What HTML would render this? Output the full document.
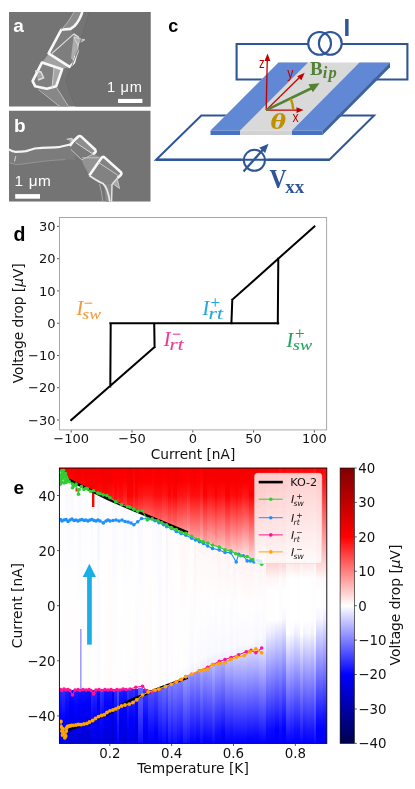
<!DOCTYPE html>
<html><head><meta charset="utf-8"><style>
html,body{margin:0;padding:0;background:#fff;}
body{width:415px;height:789px;overflow:hidden;}
svg{display:block;}
.dj{font-family:"DejaVu Sans",sans-serif;}
.lab{font-family:"Liberation Sans",sans-serif;font-weight:bold;}
</style></head><body>
<svg width="415" height="789" viewBox="0 0 415 789">
<defs>
<linearGradient id="cbar" x1="0" y1="0" x2="0" y2="1"><stop offset="0" stop-color="#800000"/><stop offset="0.25" stop-color="#ff0000"/><stop offset="0.5" stop-color="#ffffff"/><stop offset="0.75" stop-color="#0000ff"/><stop offset="1" stop-color="#00004c"/></linearGradient>
<linearGradient id="g0" x1="0" y1="0" x2="0" y2="1"><stop offset="0.0000" stop-color="#f90000"/><stop offset="0.0114" stop-color="#fa0000"/><stop offset="0.0114" stop-color="#fcfcff"/><stop offset="0.4096" stop-color="#ffffff"/><stop offset="0.7643" stop-color="#fffefe"/><stop offset="0.8078" stop-color="#fffbfb"/><stop offset="0.8078" stop-color="#2828ff"/><stop offset="0.8600" stop-color="#1212ff"/><stop offset="0.9100" stop-color="#0000fd"/><stop offset="0.9600" stop-color="#0000ee"/><stop offset="1.0000" stop-color="#0000e2"/></linearGradient><linearGradient id="g1" x1="0" y1="0" x2="0" y2="1"><stop offset="0.0000" stop-color="#f50000"/><stop offset="0.0227" stop-color="#f70000"/><stop offset="0.0227" stop-color="#fefeff"/><stop offset="0.4152" stop-color="#fffefe"/><stop offset="0.7640" stop-color="#fffdfd"/><stop offset="0.8076" stop-color="#fffafa"/><stop offset="0.8076" stop-color="#2f2fff"/><stop offset="0.8600" stop-color="#1919ff"/><stop offset="0.9100" stop-color="#0303ff"/><stop offset="0.9600" stop-color="#0000f3"/><stop offset="1.0000" stop-color="#0000e7"/></linearGradient><linearGradient id="g2" x1="0" y1="0" x2="0" y2="1"><stop offset="0.0000" stop-color="#f50000"/><stop offset="0.0359" stop-color="#f80000"/><stop offset="0.0359" stop-color="#fafaff"/><stop offset="0.4216" stop-color="#fefeff"/><stop offset="0.7638" stop-color="#ffffff"/><stop offset="0.8073" stop-color="#fffcfc"/><stop offset="0.8073" stop-color="#1f1fff"/><stop offset="0.8600" stop-color="#0909ff"/><stop offset="0.9100" stop-color="#0000f6"/><stop offset="0.9600" stop-color="#0000e8"/><stop offset="1.0000" stop-color="#0000dc"/></linearGradient><linearGradient id="g3" x1="0" y1="0" x2="0" y2="1"><stop offset="0.0000" stop-color="#fb0000"/><stop offset="0.0497" stop-color="#ff0202"/><stop offset="0.0497" stop-color="#fafaff"/><stop offset="0.4283" stop-color="#fefeff"/><stop offset="0.7634" stop-color="#ffffff"/><stop offset="0.8070" stop-color="#fffdfd"/><stop offset="0.8070" stop-color="#1212ff"/><stop offset="0.8600" stop-color="#0000fc"/><stop offset="0.9100" stop-color="#0000ed"/><stop offset="0.9600" stop-color="#0000de"/><stop offset="1.0000" stop-color="#0000d3"/></linearGradient><linearGradient id="g4" x1="0" y1="0" x2="0" y2="1"><stop offset="0.0000" stop-color="#f90000"/><stop offset="0.0500" stop-color="#fd0000"/><stop offset="0.0556" stop-color="#fe0000"/><stop offset="0.0556" stop-color="#ffffff"/><stop offset="0.4311" stop-color="#fffdfd"/><stop offset="0.7631" stop-color="#fffcfc"/><stop offset="0.8067" stop-color="#fff9f9"/><stop offset="0.8067" stop-color="#1a1aff"/><stop offset="0.8600" stop-color="#0404ff"/><stop offset="0.9100" stop-color="#0000f3"/><stop offset="0.9600" stop-color="#0000e4"/><stop offset="1.0000" stop-color="#0000d8"/></linearGradient><linearGradient id="g5" x1="0" y1="0" x2="0" y2="1"><stop offset="0.0000" stop-color="#f50000"/><stop offset="0.0500" stop-color="#fa0000"/><stop offset="0.0589" stop-color="#fb0000"/><stop offset="0.0589" stop-color="#fdfdff"/><stop offset="0.4327" stop-color="#fffefe"/><stop offset="0.7630" stop-color="#fffdfd"/><stop offset="0.8066" stop-color="#fffafa"/><stop offset="0.8066" stop-color="#1b1bff"/><stop offset="0.8600" stop-color="#0404ff"/><stop offset="0.9100" stop-color="#0000f3"/><stop offset="0.9600" stop-color="#0000e4"/><stop offset="1.0000" stop-color="#0000d9"/></linearGradient><linearGradient id="g6" x1="0" y1="0" x2="0" y2="1"><stop offset="0.0000" stop-color="#f60000"/><stop offset="0.0500" stop-color="#fb0000"/><stop offset="0.0639" stop-color="#fc0000"/><stop offset="0.0639" stop-color="#f9f9ff"/><stop offset="0.4351" stop-color="#fdfdff"/><stop offset="0.7628" stop-color="#ffffff"/><stop offset="0.8063" stop-color="#fffdfd"/><stop offset="0.8063" stop-color="#1414ff"/><stop offset="0.8100" stop-color="#1313ff"/><stop offset="0.8600" stop-color="#0000fd"/><stop offset="0.9100" stop-color="#0000ef"/><stop offset="0.9600" stop-color="#0000e0"/><stop offset="1.0000" stop-color="#0000d4"/></linearGradient><linearGradient id="g7" x1="0" y1="0" x2="0" y2="1"><stop offset="0.0000" stop-color="#fb0000"/><stop offset="0.0500" stop-color="#ff0202"/><stop offset="0.0689" stop-color="#ff0505"/><stop offset="0.0689" stop-color="#fefeff"/><stop offset="0.4375" stop-color="#fffefe"/><stop offset="0.7625" stop-color="#fffdfd"/><stop offset="0.8061" stop-color="#fffafa"/><stop offset="0.8061" stop-color="#1616ff"/><stop offset="0.8100" stop-color="#1515ff"/><stop offset="0.8600" stop-color="#0000ff"/><stop offset="0.9100" stop-color="#0000f0"/><stop offset="0.9600" stop-color="#0000e1"/><stop offset="1.0000" stop-color="#0000d5"/></linearGradient><linearGradient id="g8" x1="0" y1="0" x2="0" y2="1"><stop offset="0.0000" stop-color="#f40000"/><stop offset="0.0500" stop-color="#f90000"/><stop offset="0.0731" stop-color="#fb0000"/><stop offset="0.0731" stop-color="#fbfbff"/><stop offset="0.4395" stop-color="#fefeff"/><stop offset="0.7623" stop-color="#ffffff"/><stop offset="0.8059" stop-color="#fffcfc"/><stop offset="0.8059" stop-color="#1414ff"/><stop offset="0.8100" stop-color="#1212ff"/><stop offset="0.8600" stop-color="#0000fd"/><stop offset="0.9100" stop-color="#0000ee"/><stop offset="0.9600" stop-color="#0000df"/><stop offset="1.0000" stop-color="#0000d4"/></linearGradient><linearGradient id="g9" x1="0" y1="0" x2="0" y2="1"><stop offset="0.0000" stop-color="#f70000"/><stop offset="0.0500" stop-color="#fb0000"/><stop offset="0.0790" stop-color="#fe0000"/><stop offset="0.0790" stop-color="#fefeff"/><stop offset="0.4423" stop-color="#fffdfd"/><stop offset="0.7621" stop-color="#fffcfc"/><stop offset="0.8056" stop-color="#fff9f9"/><stop offset="0.8056" stop-color="#0f0fff"/><stop offset="0.8100" stop-color="#0e0eff"/><stop offset="0.8600" stop-color="#0000fa"/><stop offset="0.9100" stop-color="#0000eb"/><stop offset="0.9600" stop-color="#0000dc"/><stop offset="1.0000" stop-color="#0000d0"/></linearGradient><linearGradient id="g10" x1="0" y1="0" x2="0" y2="1"><stop offset="0.0000" stop-color="#f50000"/><stop offset="0.0500" stop-color="#f90000"/><stop offset="0.0840" stop-color="#fd0000"/><stop offset="0.0840" stop-color="#fafaff"/><stop offset="0.4447" stop-color="#fefeff"/><stop offset="0.7618" stop-color="#ffffff"/><stop offset="0.8054" stop-color="#fffdfd"/><stop offset="0.8054" stop-color="#3131ff"/><stop offset="0.8100" stop-color="#2f2fff"/><stop offset="0.8600" stop-color="#1a1aff"/><stop offset="0.9100" stop-color="#0505ff"/><stop offset="0.9600" stop-color="#0000f4"/><stop offset="1.0000" stop-color="#0000e8"/></linearGradient><linearGradient id="g11" x1="0" y1="0" x2="0" y2="1"><stop offset="0.0000" stop-color="#f70000"/><stop offset="0.0500" stop-color="#fb0000"/><stop offset="0.0890" stop-color="#ff0000"/><stop offset="0.0890" stop-color="#fefeff"/><stop offset="0.4471" stop-color="#fffefe"/><stop offset="0.7616" stop-color="#fffdfd"/><stop offset="0.8052" stop-color="#fffafa"/><stop offset="0.8052" stop-color="#2b2bff"/><stop offset="0.8100" stop-color="#2929ff"/><stop offset="0.8600" stop-color="#1414ff"/><stop offset="0.9100" stop-color="#0000fe"/><stop offset="0.9600" stop-color="#0000f0"/><stop offset="1.0000" stop-color="#0000e4"/></linearGradient><linearGradient id="g12" x1="0" y1="0" x2="0" y2="1"><stop offset="0.0000" stop-color="#f90000"/><stop offset="0.0500" stop-color="#fd0000"/><stop offset="0.0949" stop-color="#ff0a0a"/><stop offset="0.0949" stop-color="#f3f3ff"/><stop offset="0.4499" stop-color="#fafaff"/><stop offset="0.7613" stop-color="#fbfbff"/><stop offset="0.8049" stop-color="#fcfcff"/><stop offset="0.8049" stop-color="#1212ff"/><stop offset="0.8100" stop-color="#1010ff"/><stop offset="0.8600" stop-color="#0000fb"/><stop offset="0.9100" stop-color="#0000ec"/><stop offset="0.9600" stop-color="#0000de"/><stop offset="1.0000" stop-color="#0000d2"/></linearGradient><linearGradient id="g13" x1="0" y1="0" x2="0" y2="1"><stop offset="0.0000" stop-color="#f70000"/><stop offset="0.0500" stop-color="#fc0000"/><stop offset="0.0990" stop-color="#ff1111"/><stop offset="0.0990" stop-color="#fdfdff"/><stop offset="0.4519" stop-color="#fffefe"/><stop offset="0.7611" stop-color="#fffdfd"/><stop offset="0.8047" stop-color="#fffafa"/><stop offset="0.8047" stop-color="#3737ff"/><stop offset="0.8100" stop-color="#3535ff"/><stop offset="0.8600" stop-color="#2020ff"/><stop offset="0.9100" stop-color="#0b0bff"/><stop offset="0.9600" stop-color="#0000f8"/><stop offset="1.0000" stop-color="#0000ec"/></linearGradient><linearGradient id="g14" x1="0" y1="0" x2="0" y2="1"><stop offset="0.0000" stop-color="#f20000"/><stop offset="0.0500" stop-color="#f70000"/><stop offset="0.1024" stop-color="#ff0808"/><stop offset="0.1024" stop-color="#fcfcff"/><stop offset="0.4535" stop-color="#ffffff"/><stop offset="0.7610" stop-color="#fffefe"/><stop offset="0.8046" stop-color="#fffbfb"/><stop offset="0.8046" stop-color="#2f2fff"/><stop offset="0.8100" stop-color="#2d2dff"/><stop offset="0.8600" stop-color="#1818ff"/><stop offset="0.9100" stop-color="#0303ff"/><stop offset="0.9600" stop-color="#0000f2"/><stop offset="1.0000" stop-color="#0000e6"/></linearGradient><linearGradient id="g15" x1="0" y1="0" x2="0" y2="1"><stop offset="0.0000" stop-color="#f50000"/><stop offset="0.0500" stop-color="#f90000"/><stop offset="0.1000" stop-color="#ff0505"/><stop offset="0.1074" stop-color="#ff0c0c"/><stop offset="0.1074" stop-color="#ffffff"/><stop offset="0.4559" stop-color="#fffdfd"/><stop offset="0.7607" stop-color="#fffcfc"/><stop offset="0.8043" stop-color="#fff9f9"/><stop offset="0.8043" stop-color="#1818ff"/><stop offset="0.8100" stop-color="#1616ff"/><stop offset="0.8600" stop-color="#0101ff"/><stop offset="0.9100" stop-color="#0000f1"/><stop offset="0.9600" stop-color="#0000e2"/><stop offset="1.0000" stop-color="#0000d6"/></linearGradient><linearGradient id="g16" x1="0" y1="0" x2="0" y2="1"><stop offset="0.0000" stop-color="#f40000"/><stop offset="0.0500" stop-color="#f90000"/><stop offset="0.1000" stop-color="#ff0f0f"/><stop offset="0.1140" stop-color="#ff1c1c"/><stop offset="0.1140" stop-color="#fffefe"/><stop offset="0.4590" stop-color="#fffcfc"/><stop offset="0.7604" stop-color="#fffbfb"/><stop offset="0.8040" stop-color="#fff8f8"/><stop offset="0.8040" stop-color="#1a1aff"/><stop offset="0.8100" stop-color="#1717ff"/><stop offset="0.8600" stop-color="#0202ff"/><stop offset="0.9100" stop-color="#0000f2"/><stop offset="0.9600" stop-color="#0000e3"/><stop offset="1.0000" stop-color="#0000d7"/></linearGradient><linearGradient id="g17" x1="0" y1="0" x2="0" y2="1"><stop offset="0.0000" stop-color="#f80000"/><stop offset="0.0500" stop-color="#fd0000"/><stop offset="0.1000" stop-color="#ff1818"/><stop offset="0.1190" stop-color="#ff2a2a"/><stop offset="0.1190" stop-color="#f8f8ff"/><stop offset="0.4614" stop-color="#fdfdff"/><stop offset="0.7602" stop-color="#fefeff"/><stop offset="0.8038" stop-color="#fffefe"/><stop offset="0.8038" stop-color="#0202ff"/><stop offset="0.8100" stop-color="#0000ff"/><stop offset="0.8600" stop-color="#0000f0"/><stop offset="0.9100" stop-color="#0000e1"/><stop offset="0.9600" stop-color="#0000d2"/><stop offset="1.0000" stop-color="#0000c7"/></linearGradient><linearGradient id="g18" x1="0" y1="0" x2="0" y2="1"><stop offset="0.0000" stop-color="#f80000"/><stop offset="0.0500" stop-color="#fd0000"/><stop offset="0.1000" stop-color="#ff0b0b"/><stop offset="0.1231" stop-color="#ff2020"/><stop offset="0.1231" stop-color="#f8f8ff"/><stop offset="0.4634" stop-color="#fdfdff"/><stop offset="0.7600" stop-color="#fefeff"/><stop offset="0.8036" stop-color="#fffefe"/><stop offset="0.8036" stop-color="#2d2dff"/><stop offset="0.8100" stop-color="#2a2aff"/><stop offset="0.8600" stop-color="#1515ff"/><stop offset="0.9100" stop-color="#0000ff"/><stop offset="0.9600" stop-color="#0000f0"/><stop offset="1.0000" stop-color="#0000e4"/></linearGradient><linearGradient id="g19" x1="0" y1="0" x2="0" y2="1"><stop offset="0.0000" stop-color="#fa0000"/><stop offset="0.0500" stop-color="#ff0000"/><stop offset="0.1000" stop-color="#ff1919"/><stop offset="0.1273" stop-color="#ff3232"/><stop offset="0.1273" stop-color="#fcfcff"/><stop offset="0.4653" stop-color="#ffffff"/><stop offset="0.7598" stop-color="#fffefe"/><stop offset="0.8034" stop-color="#fffbfb"/><stop offset="0.8034" stop-color="#5252ff"/><stop offset="0.8100" stop-color="#5050ff"/><stop offset="0.8600" stop-color="#3b3bff"/><stop offset="0.9100" stop-color="#2525ff"/><stop offset="0.9600" stop-color="#1010ff"/><stop offset="1.0000" stop-color="#0000ff"/></linearGradient><linearGradient id="g20" x1="0" y1="0" x2="0" y2="1"><stop offset="0.0000" stop-color="#f80000"/><stop offset="0.0500" stop-color="#fd0000"/><stop offset="0.1000" stop-color="#ff0d0d"/><stop offset="0.1322" stop-color="#ff2b2b"/><stop offset="0.1322" stop-color="#fcfcff"/><stop offset="0.4677" stop-color="#ffffff"/><stop offset="0.7596" stop-color="#fffefe"/><stop offset="0.8032" stop-color="#fffbfb"/><stop offset="0.8032" stop-color="#1d1dff"/><stop offset="0.8100" stop-color="#1b1bff"/><stop offset="0.8600" stop-color="#0606ff"/><stop offset="0.9100" stop-color="#0000f4"/><stop offset="0.9600" stop-color="#0000e5"/><stop offset="1.0000" stop-color="#0000da"/></linearGradient><linearGradient id="g21" x1="0" y1="0" x2="0" y2="1"><stop offset="0.0000" stop-color="#fb0000"/><stop offset="0.0500" stop-color="#ff0101"/><stop offset="0.1000" stop-color="#ff1b1b"/><stop offset="0.1388" stop-color="#ff3f3f"/><stop offset="0.1388" stop-color="#fafaff"/><stop offset="0.4708" stop-color="#fefeff"/><stop offset="0.7593" stop-color="#ffffff"/><stop offset="0.8029" stop-color="#fffcfc"/><stop offset="0.8029" stop-color="#1b1bff"/><stop offset="0.8100" stop-color="#1818ff"/><stop offset="0.8600" stop-color="#0303ff"/><stop offset="0.9100" stop-color="#0000f2"/><stop offset="0.9600" stop-color="#0000e3"/><stop offset="1.0000" stop-color="#0000d8"/></linearGradient><linearGradient id="g22" x1="0" y1="0" x2="0" y2="1"><stop offset="0.0000" stop-color="#f50000"/><stop offset="0.0500" stop-color="#f90000"/><stop offset="0.1000" stop-color="#ff0303"/><stop offset="0.1438" stop-color="#ff2c2c"/><stop offset="0.1438" stop-color="#fdfdff"/><stop offset="0.4732" stop-color="#fffefe"/><stop offset="0.7591" stop-color="#fffdfd"/><stop offset="0.8026" stop-color="#fffafa"/><stop offset="0.8026" stop-color="#3939ff"/><stop offset="0.8100" stop-color="#3636ff"/><stop offset="0.8600" stop-color="#2020ff"/><stop offset="0.9100" stop-color="#0b0bff"/><stop offset="0.9600" stop-color="#0000f8"/><stop offset="1.0000" stop-color="#0000ec"/></linearGradient><linearGradient id="g23" x1="0" y1="0" x2="0" y2="1"><stop offset="0.0000" stop-color="#f30000"/><stop offset="0.0500" stop-color="#f80000"/><stop offset="0.1000" stop-color="#ff0303"/><stop offset="0.1486" stop-color="#ff3030"/><stop offset="0.1486" stop-color="#fbfbff"/><stop offset="0.4754" stop-color="#fefeff"/><stop offset="0.7586" stop-color="#ffffff"/><stop offset="0.8022" stop-color="#fffcfc"/><stop offset="0.8022" stop-color="#2d2dff"/><stop offset="0.8100" stop-color="#2a2aff"/><stop offset="0.8600" stop-color="#1414ff"/><stop offset="0.9100" stop-color="#0000fe"/><stop offset="0.9600" stop-color="#0000ef"/><stop offset="1.0000" stop-color="#0000e3"/></linearGradient><linearGradient id="g24" x1="0" y1="0" x2="0" y2="1"><stop offset="0.0000" stop-color="#fd0000"/><stop offset="0.0500" stop-color="#ff0606"/><stop offset="0.1000" stop-color="#ff1515"/><stop offset="0.1534" stop-color="#ff4747"/><stop offset="0.1534" stop-color="#fcfcff"/><stop offset="0.4774" stop-color="#ffffff"/><stop offset="0.7578" stop-color="#fffdfd"/><stop offset="0.8014" stop-color="#fffbfb"/><stop offset="0.8014" stop-color="#3333ff"/><stop offset="0.8100" stop-color="#2f2fff"/><stop offset="0.8600" stop-color="#1919ff"/><stop offset="0.9100" stop-color="#0303ff"/><stop offset="0.9600" stop-color="#0000f2"/><stop offset="1.0000" stop-color="#0000e5"/></linearGradient><linearGradient id="g25" x1="0" y1="0" x2="0" y2="1"><stop offset="0.0000" stop-color="#f40000"/><stop offset="0.0500" stop-color="#f90000"/><stop offset="0.1000" stop-color="#ff0707"/><stop offset="0.1500" stop-color="#ff3636"/><stop offset="0.1573" stop-color="#ff3d3d"/><stop offset="0.1573" stop-color="#fffefe"/><stop offset="0.4790" stop-color="#fffcfc"/><stop offset="0.7571" stop-color="#fffbfb"/><stop offset="0.8007" stop-color="#fff8f8"/><stop offset="0.8007" stop-color="#2121ff"/><stop offset="0.8100" stop-color="#1d1dff"/><stop offset="0.8600" stop-color="#0707ff"/><stop offset="0.9100" stop-color="#0000f4"/><stop offset="0.9600" stop-color="#0000e4"/><stop offset="1.0000" stop-color="#0000d8"/></linearGradient><linearGradient id="g26" x1="0" y1="0" x2="0" y2="1"><stop offset="0.0000" stop-color="#f90000"/><stop offset="0.0500" stop-color="#fd0000"/><stop offset="0.1000" stop-color="#ff1414"/><stop offset="0.1500" stop-color="#ff4242"/><stop offset="0.1636" stop-color="#ff4f4f"/><stop offset="0.1636" stop-color="#f8f8ff"/><stop offset="0.4816" stop-color="#fdfdff"/><stop offset="0.7560" stop-color="#fefeff"/><stop offset="0.7995" stop-color="#fffefe"/><stop offset="0.7995" stop-color="#6767ff"/><stop offset="0.8500" stop-color="#5050ff"/><stop offset="0.9000" stop-color="#3939ff"/><stop offset="0.9500" stop-color="#2222ff"/><stop offset="1.0000" stop-color="#0b0bff"/></linearGradient><linearGradient id="g27" x1="0" y1="0" x2="0" y2="1"><stop offset="0.0000" stop-color="#fa0000"/><stop offset="0.0500" stop-color="#ff0000"/><stop offset="0.1000" stop-color="#ff1b1b"/><stop offset="0.1500" stop-color="#ff4a4a"/><stop offset="0.1714" stop-color="#ff5e5e"/><stop offset="0.1714" stop-color="#fffefe"/><stop offset="0.4868" stop-color="#fffdfd"/><stop offset="0.7585" stop-color="#fffcfc"/><stop offset="0.8021" stop-color="#fff8f8"/><stop offset="0.8021" stop-color="#3b3bff"/><stop offset="0.8100" stop-color="#3838ff"/><stop offset="0.8600" stop-color="#2020ff"/><stop offset="0.9100" stop-color="#0909ff"/><stop offset="0.9600" stop-color="#0000f5"/><stop offset="1.0000" stop-color="#0000e8"/></linearGradient><linearGradient id="g28" x1="0" y1="0" x2="0" y2="1"><stop offset="0.0000" stop-color="#f90000"/><stop offset="0.0500" stop-color="#fe0000"/><stop offset="0.1000" stop-color="#ff1a1a"/><stop offset="0.1500" stop-color="#ff4848"/><stop offset="0.1785" stop-color="#ff6363"/><stop offset="0.1785" stop-color="#fffefe"/><stop offset="0.4932" stop-color="#fffcfc"/><stop offset="0.7643" stop-color="#fffbfb"/><stop offset="0.8079" stop-color="#fff8f8"/><stop offset="0.8079" stop-color="#5151ff"/><stop offset="0.8600" stop-color="#3838ff"/><stop offset="0.9100" stop-color="#2020ff"/><stop offset="0.9600" stop-color="#0808ff"/><stop offset="1.0000" stop-color="#0000f8"/></linearGradient><linearGradient id="g29" x1="0" y1="0" x2="0" y2="1"><stop offset="0.0000" stop-color="#fc0000"/><stop offset="0.0500" stop-color="#ff0404"/><stop offset="0.1000" stop-color="#ff1515"/><stop offset="0.1500" stop-color="#ff4444"/><stop offset="0.1832" stop-color="#ff6363"/><stop offset="0.1832" stop-color="#fbfbff"/><stop offset="0.4945" stop-color="#ffffff"/><stop offset="0.7622" stop-color="#fffefe"/><stop offset="0.8057" stop-color="#fffcfc"/><stop offset="0.8057" stop-color="#5252ff"/><stop offset="0.8100" stop-color="#5050ff"/><stop offset="0.8600" stop-color="#3838ff"/><stop offset="0.9100" stop-color="#2020ff"/><stop offset="0.9600" stop-color="#0808ff"/><stop offset="1.0000" stop-color="#0000f7"/></linearGradient><linearGradient id="g30" x1="0" y1="0" x2="0" y2="1"><stop offset="0.0000" stop-color="#f90000"/><stop offset="0.0500" stop-color="#fe0000"/><stop offset="0.1000" stop-color="#ff0d0d"/><stop offset="0.1500" stop-color="#ff3b3b"/><stop offset="0.1880" stop-color="#ff5f5f"/><stop offset="0.1880" stop-color="#fbfbff"/><stop offset="0.4958" stop-color="#fefeff"/><stop offset="0.7600" stop-color="#fffefe"/><stop offset="0.8036" stop-color="#fffcfc"/><stop offset="0.8036" stop-color="#4a4aff"/><stop offset="0.8100" stop-color="#4747ff"/><stop offset="0.8600" stop-color="#2e2eff"/><stop offset="0.9100" stop-color="#1616ff"/><stop offset="0.9600" stop-color="#0000fd"/><stop offset="1.0000" stop-color="#0000ef"/></linearGradient><linearGradient id="g31" x1="0" y1="0" x2="0" y2="1"><stop offset="0.0000" stop-color="#f60000"/><stop offset="0.0500" stop-color="#fb0000"/><stop offset="0.1000" stop-color="#ff0d0d"/><stop offset="0.1500" stop-color="#ff3b3b"/><stop offset="0.1943" stop-color="#ff6464"/><stop offset="0.1943" stop-color="#f8f8ff"/><stop offset="0.4975" stop-color="#fcfcff"/><stop offset="0.7571" stop-color="#fcfcff"/><stop offset="0.8007" stop-color="#fdfdff"/><stop offset="0.8007" stop-color="#6161ff"/><stop offset="0.8100" stop-color="#5c5cff"/><stop offset="0.8600" stop-color="#4444ff"/><stop offset="0.9100" stop-color="#2b2bff"/><stop offset="0.9600" stop-color="#1212ff"/><stop offset="1.0000" stop-color="#0000fe"/></linearGradient><linearGradient id="g32" x1="0" y1="0" x2="0" y2="1"><stop offset="0.0000" stop-color="#fb0000"/><stop offset="0.0500" stop-color="#ff0101"/><stop offset="0.1000" stop-color="#ff1717"/><stop offset="0.1500" stop-color="#ff4545"/><stop offset="0.2010" stop-color="#ff7575"/><stop offset="0.2010" stop-color="#fffdfd"/><stop offset="0.4976" stop-color="#fffdfd"/><stop offset="0.7505" stop-color="#fffdfd"/><stop offset="0.7941" stop-color="#fffcfc"/><stop offset="0.7941" stop-color="#6e6eff"/><stop offset="0.8000" stop-color="#6b6bff"/><stop offset="0.8500" stop-color="#5252ff"/><stop offset="0.9000" stop-color="#3939ff"/><stop offset="0.9500" stop-color="#1f1fff"/><stop offset="1.0000" stop-color="#0606ff"/></linearGradient><linearGradient id="g33" x1="0" y1="0" x2="0" y2="1"><stop offset="0.0000" stop-color="#f80000"/><stop offset="0.0500" stop-color="#fd0000"/><stop offset="0.1000" stop-color="#ff1111"/><stop offset="0.1500" stop-color="#ff3f3f"/><stop offset="0.2000" stop-color="#ff6e6e"/><stop offset="0.2061" stop-color="#ff7373"/><stop offset="0.2061" stop-color="#f5f5ff"/><stop offset="0.4977" stop-color="#f9f9ff"/><stop offset="0.7456" stop-color="#f9f9ff"/><stop offset="0.7892" stop-color="#f6f6ff"/><stop offset="0.7892" stop-color="#6262ff"/><stop offset="0.8400" stop-color="#4848ff"/><stop offset="0.8900" stop-color="#2e2eff"/><stop offset="0.9400" stop-color="#1515ff"/><stop offset="0.9900" stop-color="#0000fc"/><stop offset="1.0000" stop-color="#0000f8"/></linearGradient><linearGradient id="g34" x1="0" y1="0" x2="0" y2="1"><stop offset="0.0000" stop-color="#f50000"/><stop offset="0.0500" stop-color="#fa0000"/><stop offset="0.1000" stop-color="#ff0404"/><stop offset="0.1500" stop-color="#ff3333"/><stop offset="0.2000" stop-color="#ff6161"/><stop offset="0.2104" stop-color="#ff6b6b"/><stop offset="0.2104" stop-color="#fffbfb"/><stop offset="0.4977" stop-color="#fffdfd"/><stop offset="0.7416" stop-color="#fffdfd"/><stop offset="0.7851" stop-color="#ffffff"/><stop offset="0.7851" stop-color="#7f7fff"/><stop offset="0.7900" stop-color="#7d7dff"/><stop offset="0.8400" stop-color="#6363ff"/><stop offset="0.8900" stop-color="#4949ff"/><stop offset="0.9400" stop-color="#2f2fff"/><stop offset="0.9900" stop-color="#1515ff"/><stop offset="1.0000" stop-color="#1010ff"/></linearGradient><linearGradient id="g35" x1="0" y1="0" x2="0" y2="1"><stop offset="0.0000" stop-color="#f80000"/><stop offset="0.0500" stop-color="#fc0000"/><stop offset="0.1000" stop-color="#ff1010"/><stop offset="0.1500" stop-color="#ff3f3f"/><stop offset="0.2000" stop-color="#ff6e6e"/><stop offset="0.2146" stop-color="#ff7b7b"/><stop offset="0.2146" stop-color="#fdfdff"/><stop offset="0.4978" stop-color="#fdfdff"/><stop offset="0.7375" stop-color="#fcfcff"/><stop offset="0.7810" stop-color="#f9f9ff"/><stop offset="0.7810" stop-color="#7777ff"/><stop offset="0.7900" stop-color="#7272ff"/><stop offset="0.8400" stop-color="#5858ff"/><stop offset="0.8900" stop-color="#3e3eff"/><stop offset="0.9400" stop-color="#2424ff"/><stop offset="0.9900" stop-color="#0a0aff"/><stop offset="1.0000" stop-color="#0404ff"/></linearGradient><linearGradient id="g36" x1="0" y1="0" x2="0" y2="1"><stop offset="0.0000" stop-color="#f40000"/><stop offset="0.0500" stop-color="#f90000"/><stop offset="0.1000" stop-color="#ff0404"/><stop offset="0.1500" stop-color="#ff3333"/><stop offset="0.2000" stop-color="#ff6262"/><stop offset="0.2197" stop-color="#ff7474"/><stop offset="0.2197" stop-color="#fffcfc"/><stop offset="0.4979" stop-color="#fffefe"/><stop offset="0.7326" stop-color="#ffffff"/><stop offset="0.7761" stop-color="#fbfbff"/><stop offset="0.7761" stop-color="#8484ff"/><stop offset="0.7800" stop-color="#8282ff"/><stop offset="0.8300" stop-color="#6767ff"/><stop offset="0.8800" stop-color="#4d4dff"/><stop offset="0.9300" stop-color="#3232ff"/><stop offset="0.9800" stop-color="#1818ff"/><stop offset="1.0000" stop-color="#0d0dff"/></linearGradient><linearGradient id="g37" x1="0" y1="0" x2="0" y2="1"><stop offset="0.0000" stop-color="#f50000"/><stop offset="0.0500" stop-color="#fa0000"/><stop offset="0.1000" stop-color="#ff1414"/><stop offset="0.1500" stop-color="#ff4343"/><stop offset="0.2000" stop-color="#ff7171"/><stop offset="0.2256" stop-color="#ff8989"/><stop offset="0.2256" stop-color="#fffdfd"/><stop offset="0.4980" stop-color="#ffffff"/><stop offset="0.7269" stop-color="#fdfdff"/><stop offset="0.7704" stop-color="#f7f7ff"/><stop offset="0.7704" stop-color="#8080ff"/><stop offset="0.7800" stop-color="#7b7bff"/><stop offset="0.8300" stop-color="#6060ff"/><stop offset="0.8800" stop-color="#4545ff"/><stop offset="0.9300" stop-color="#2a2aff"/><stop offset="0.9800" stop-color="#0f0fff"/><stop offset="1.0000" stop-color="#0404ff"/></linearGradient><linearGradient id="g38" x1="0" y1="0" x2="0" y2="1"><stop offset="0.0000" stop-color="#f90000"/><stop offset="0.0500" stop-color="#fe0000"/><stop offset="0.1000" stop-color="#ff1313"/><stop offset="0.1500" stop-color="#ff4141"/><stop offset="0.2000" stop-color="#ff7070"/><stop offset="0.2307" stop-color="#ff8c8c"/><stop offset="0.2307" stop-color="#fff8f8"/><stop offset="0.4981" stop-color="#fffdfd"/><stop offset="0.7219" stop-color="#ffffff"/><stop offset="0.7655" stop-color="#f9f9ff"/><stop offset="0.7655" stop-color="#8080ff"/><stop offset="0.7700" stop-color="#7d7dff"/><stop offset="0.8200" stop-color="#6262ff"/><stop offset="0.8700" stop-color="#4646ff"/><stop offset="0.9200" stop-color="#2b2bff"/><stop offset="0.9700" stop-color="#1010ff"/><stop offset="1.0000" stop-color="#0000fe"/></linearGradient><linearGradient id="g39" x1="0" y1="0" x2="0" y2="1"><stop offset="0.0000" stop-color="#fb0000"/><stop offset="0.0500" stop-color="#ff0000"/><stop offset="0.1000" stop-color="#ff1717"/><stop offset="0.1500" stop-color="#ff4646"/><stop offset="0.2000" stop-color="#ff7575"/><stop offset="0.2366" stop-color="#ff9797"/><stop offset="0.2366" stop-color="#fff8f8"/><stop offset="0.4982" stop-color="#fffdfd"/><stop offset="0.7162" stop-color="#fefeff"/><stop offset="0.7598" stop-color="#f7f7ff"/><stop offset="0.7598" stop-color="#9a9aff"/><stop offset="0.8100" stop-color="#7e7eff"/><stop offset="0.8600" stop-color="#6262ff"/><stop offset="0.9100" stop-color="#4646ff"/><stop offset="0.9600" stop-color="#2a2aff"/><stop offset="1.0000" stop-color="#1414ff"/></linearGradient><linearGradient id="g40" x1="0" y1="0" x2="0" y2="1"><stop offset="0.0000" stop-color="#fc0000"/><stop offset="0.0500" stop-color="#ff0303"/><stop offset="0.1000" stop-color="#ff2121"/><stop offset="0.1500" stop-color="#ff5050"/><stop offset="0.2000" stop-color="#ff7e7e"/><stop offset="0.2426" stop-color="#ffa6a6"/><stop offset="0.2426" stop-color="#fff9f9"/><stop offset="0.4983" stop-color="#fffefe"/><stop offset="0.7105" stop-color="#fcfcff"/><stop offset="0.7541" stop-color="#f4f4ff"/><stop offset="0.7541" stop-color="#9898ff"/><stop offset="0.7600" stop-color="#9494ff"/><stop offset="0.8100" stop-color="#7878ff"/><stop offset="0.8600" stop-color="#5c5cff"/><stop offset="0.9100" stop-color="#4040ff"/><stop offset="0.9600" stop-color="#2323ff"/><stop offset="1.0000" stop-color="#0d0dff"/></linearGradient><linearGradient id="g41" x1="0" y1="0" x2="0" y2="1"><stop offset="0.0000" stop-color="#f80000"/><stop offset="0.0500" stop-color="#fc0000"/><stop offset="0.1000" stop-color="#ff0e0e"/><stop offset="0.1500" stop-color="#ff3c3c"/><stop offset="0.2000" stop-color="#ff6b6b"/><stop offset="0.2480" stop-color="#ff9898"/><stop offset="0.2480" stop-color="#fffdfd"/><stop offset="0.4983" stop-color="#fdfdff"/><stop offset="0.7050" stop-color="#f9f9ff"/><stop offset="0.7486" stop-color="#eeeeff"/><stop offset="0.7486" stop-color="#8d8dff"/><stop offset="0.8000" stop-color="#7070ff"/><stop offset="0.8500" stop-color="#5353ff"/><stop offset="0.9000" stop-color="#3737ff"/><stop offset="0.9500" stop-color="#1a1aff"/><stop offset="1.0000" stop-color="#0000fd"/></linearGradient><linearGradient id="g42" x1="0" y1="0" x2="0" y2="1"><stop offset="0.0000" stop-color="#f40000"/><stop offset="0.0500" stop-color="#f80000"/><stop offset="0.1000" stop-color="#ff0d0d"/><stop offset="0.1500" stop-color="#ff3b3b"/><stop offset="0.2000" stop-color="#ff6a6a"/><stop offset="0.2524" stop-color="#ff9b9b"/><stop offset="0.2524" stop-color="#fff1f1"/><stop offset="0.4982" stop-color="#fffafa"/><stop offset="0.7005" stop-color="#ffffff"/><stop offset="0.7441" stop-color="#f6f6ff"/><stop offset="0.7441" stop-color="#9797ff"/><stop offset="0.7500" stop-color="#9494ff"/><stop offset="0.8000" stop-color="#7777ff"/><stop offset="0.8500" stop-color="#5a5aff"/><stop offset="0.9000" stop-color="#3d3dff"/><stop offset="0.9500" stop-color="#1f1fff"/><stop offset="1.0000" stop-color="#0202ff"/></linearGradient><linearGradient id="g43" x1="0" y1="0" x2="0" y2="1"><stop offset="0.0000" stop-color="#fa0000"/><stop offset="0.0500" stop-color="#ff0000"/><stop offset="0.1000" stop-color="#ff0e0e"/><stop offset="0.1500" stop-color="#ff3c3c"/><stop offset="0.2000" stop-color="#ff6b6b"/><stop offset="0.2500" stop-color="#ff9999"/><stop offset="0.2567" stop-color="#ff9f9f"/><stop offset="0.2567" stop-color="#fff7f7"/><stop offset="0.4981" stop-color="#fffefe"/><stop offset="0.6960" stop-color="#fbfbff"/><stop offset="0.7395" stop-color="#efefff"/><stop offset="0.7395" stop-color="#9191ff"/><stop offset="0.7900" stop-color="#7474ff"/><stop offset="0.8400" stop-color="#5656ff"/><stop offset="0.8900" stop-color="#3939ff"/><stop offset="0.9400" stop-color="#1b1bff"/><stop offset="0.9900" stop-color="#0000fd"/><stop offset="1.0000" stop-color="#0000f9"/></linearGradient><linearGradient id="g44" x1="0" y1="0" x2="0" y2="1"><stop offset="0.0000" stop-color="#fd0000"/><stop offset="0.0500" stop-color="#ff0606"/><stop offset="0.1000" stop-color="#ff1d1d"/><stop offset="0.1500" stop-color="#ff4c4c"/><stop offset="0.2000" stop-color="#ff7b7b"/><stop offset="0.2500" stop-color="#ffa9a9"/><stop offset="0.2618" stop-color="#ffb4b4"/><stop offset="0.2618" stop-color="#fff6f6"/><stop offset="0.4980" stop-color="#fffefe"/><stop offset="0.6907" stop-color="#fafaff"/><stop offset="0.7342" stop-color="#ededff"/><stop offset="0.7342" stop-color="#a7a7ff"/><stop offset="0.7400" stop-color="#a4a4ff"/><stop offset="0.7900" stop-color="#8686ff"/><stop offset="0.8400" stop-color="#6868ff"/><stop offset="0.8900" stop-color="#4a4aff"/><stop offset="0.9400" stop-color="#2c2cff"/><stop offset="0.9900" stop-color="#0e0eff"/><stop offset="1.0000" stop-color="#0808ff"/></linearGradient><linearGradient id="g45" x1="0" y1="0" x2="0" y2="1"><stop offset="0.0000" stop-color="#f20000"/><stop offset="0.0500" stop-color="#f70000"/><stop offset="0.1000" stop-color="#ff0303"/><stop offset="0.1500" stop-color="#ff3232"/><stop offset="0.2000" stop-color="#ff6161"/><stop offset="0.2500" stop-color="#ff8f8f"/><stop offset="0.2669" stop-color="#ff9f9f"/><stop offset="0.2669" stop-color="#fff6f6"/><stop offset="0.4979" stop-color="#ffffff"/><stop offset="0.6854" stop-color="#fafaff"/><stop offset="0.7289" stop-color="#ececff"/><stop offset="0.7289" stop-color="#9f9fff"/><stop offset="0.7800" stop-color="#8080ff"/><stop offset="0.8300" stop-color="#6161ff"/><stop offset="0.8800" stop-color="#4343ff"/><stop offset="0.9300" stop-color="#2525ff"/><stop offset="0.9800" stop-color="#0606ff"/><stop offset="1.0000" stop-color="#0000fb"/></linearGradient><linearGradient id="g46" x1="0" y1="0" x2="0" y2="1"><stop offset="0.0000" stop-color="#f70000"/><stop offset="0.0500" stop-color="#fc0000"/><stop offset="0.1000" stop-color="#ff1111"/><stop offset="0.1500" stop-color="#ff4040"/><stop offset="0.2000" stop-color="#ff6e6e"/><stop offset="0.2500" stop-color="#ff9d9d"/><stop offset="0.2734" stop-color="#ffb3b3"/><stop offset="0.2734" stop-color="#fff7f7"/><stop offset="0.4978" stop-color="#fefeff"/><stop offset="0.6786" stop-color="#f8f8ff"/><stop offset="0.7221" stop-color="#eaeaff"/><stop offset="0.7221" stop-color="#a9a9ff"/><stop offset="0.7300" stop-color="#a4a4ff"/><stop offset="0.7800" stop-color="#8585ff"/><stop offset="0.8300" stop-color="#6666ff"/><stop offset="0.8800" stop-color="#4747ff"/><stop offset="0.9300" stop-color="#2828ff"/><stop offset="0.9800" stop-color="#0909ff"/><stop offset="1.0000" stop-color="#0000fd"/></linearGradient><linearGradient id="g47" x1="0" y1="0" x2="0" y2="1"><stop offset="0.0000" stop-color="#f70000"/><stop offset="0.0500" stop-color="#fb0000"/><stop offset="0.1000" stop-color="#ff0e0e"/><stop offset="0.1500" stop-color="#ff3c3c"/><stop offset="0.2000" stop-color="#ff6b6b"/><stop offset="0.2500" stop-color="#ff9a9a"/><stop offset="0.2792" stop-color="#ffb5b5"/><stop offset="0.2792" stop-color="#fff5f5"/><stop offset="0.4977" stop-color="#ffffff"/><stop offset="0.6725" stop-color="#f9f9ff"/><stop offset="0.7161" stop-color="#ebebff"/><stop offset="0.7161" stop-color="#b9b9ff"/><stop offset="0.7200" stop-color="#b7b7ff"/><stop offset="0.7700" stop-color="#9797ff"/><stop offset="0.8200" stop-color="#7878ff"/><stop offset="0.8700" stop-color="#5858ff"/><stop offset="0.9200" stop-color="#3939ff"/><stop offset="0.9700" stop-color="#1a1aff"/><stop offset="1.0000" stop-color="#0707ff"/></linearGradient><linearGradient id="g48" x1="0" y1="0" x2="0" y2="1"><stop offset="0.0000" stop-color="#f60000"/><stop offset="0.0500" stop-color="#fa0000"/><stop offset="0.1000" stop-color="#ff0101"/><stop offset="0.1500" stop-color="#ff2f2f"/><stop offset="0.2000" stop-color="#ff5e5e"/><stop offset="0.2500" stop-color="#ff8c8c"/><stop offset="0.2829" stop-color="#ffabab"/><stop offset="0.2829" stop-color="#fff7f7"/><stop offset="0.4976" stop-color="#fdfdff"/><stop offset="0.6687" stop-color="#f8f8ff"/><stop offset="0.7123" stop-color="#eaeaff"/><stop offset="0.7123" stop-color="#aeaeff"/><stop offset="0.7200" stop-color="#a9a9ff"/><stop offset="0.7700" stop-color="#8989ff"/><stop offset="0.8200" stop-color="#6a6aff"/><stop offset="0.8700" stop-color="#4a4aff"/><stop offset="0.9200" stop-color="#2a2aff"/><stop offset="0.9700" stop-color="#0a0aff"/><stop offset="1.0000" stop-color="#0000f9"/></linearGradient><linearGradient id="g49" x1="0" y1="0" x2="0" y2="1"><stop offset="0.0000" stop-color="#f40000"/><stop offset="0.0500" stop-color="#f90000"/><stop offset="0.1000" stop-color="#ff0d0d"/><stop offset="0.1500" stop-color="#ff3b3b"/><stop offset="0.2000" stop-color="#ff6a6a"/><stop offset="0.2500" stop-color="#ff9999"/><stop offset="0.2872" stop-color="#ffbbbb"/><stop offset="0.2872" stop-color="#fff2f2"/><stop offset="0.4975" stop-color="#fffefe"/><stop offset="0.6642" stop-color="#fafaff"/><stop offset="0.7078" stop-color="#ededff"/><stop offset="0.7078" stop-color="#afafff"/><stop offset="0.7600" stop-color="#8e8eff"/><stop offset="0.8100" stop-color="#6d6dff"/><stop offset="0.8600" stop-color="#4d4dff"/><stop offset="0.9100" stop-color="#2d2dff"/><stop offset="0.9600" stop-color="#0d0dff"/><stop offset="1.0000" stop-color="#0000f6"/></linearGradient><linearGradient id="g50" x1="0" y1="0" x2="0" y2="1"><stop offset="0.0000" stop-color="#f60000"/><stop offset="0.0500" stop-color="#fb0000"/><stop offset="0.1000" stop-color="#ff1111"/><stop offset="0.1500" stop-color="#ff3f3f"/><stop offset="0.2000" stop-color="#ff6e6e"/><stop offset="0.2500" stop-color="#ff9c9c"/><stop offset="0.2928" stop-color="#ffc4c4"/><stop offset="0.2928" stop-color="#fff7f7"/><stop offset="0.4979" stop-color="#fdfdff"/><stop offset="0.6594" stop-color="#f7f7ff"/><stop offset="0.7030" stop-color="#e9e9ff"/><stop offset="0.7030" stop-color="#acacff"/><stop offset="0.7100" stop-color="#a7a7ff"/><stop offset="0.7600" stop-color="#8787ff"/><stop offset="0.8100" stop-color="#6666ff"/><stop offset="0.8600" stop-color="#4646ff"/><stop offset="0.9100" stop-color="#2525ff"/><stop offset="0.9600" stop-color="#0404ff"/><stop offset="1.0000" stop-color="#0000f0"/></linearGradient><linearGradient id="g51" x1="0" y1="0" x2="0" y2="1"><stop offset="0.0000" stop-color="#f50000"/><stop offset="0.0500" stop-color="#f90000"/><stop offset="0.1000" stop-color="#fe0000"/><stop offset="0.1500" stop-color="#ff2c2c"/><stop offset="0.2000" stop-color="#ff5b5b"/><stop offset="0.2500" stop-color="#ff8989"/><stop offset="0.2990" stop-color="#ffb7b7"/><stop offset="0.2990" stop-color="#fff2f2"/><stop offset="0.4986" stop-color="#fffefe"/><stop offset="0.6546" stop-color="#fafaff"/><stop offset="0.6981" stop-color="#ededff"/><stop offset="0.6981" stop-color="#c1c1ff"/><stop offset="0.7500" stop-color="#9e9eff"/><stop offset="0.8000" stop-color="#7d7dff"/><stop offset="0.8500" stop-color="#5c5cff"/><stop offset="0.9000" stop-color="#3b3bff"/><stop offset="0.9500" stop-color="#1a1aff"/><stop offset="1.0000" stop-color="#0000fa"/></linearGradient><linearGradient id="g52" x1="0" y1="0" x2="0" y2="1"><stop offset="0.0000" stop-color="#f70000"/><stop offset="0.0500" stop-color="#fb0000"/><stop offset="0.1000" stop-color="#ff0c0c"/><stop offset="0.1500" stop-color="#ff3b3b"/><stop offset="0.2000" stop-color="#ff6a6a"/><stop offset="0.2500" stop-color="#ff9898"/><stop offset="0.3000" stop-color="#ffc7c7"/><stop offset="0.3046" stop-color="#ffcbcb"/><stop offset="0.3046" stop-color="#fff8f8"/><stop offset="0.4992" stop-color="#fcfcff"/><stop offset="0.6502" stop-color="#f7f7ff"/><stop offset="0.6938" stop-color="#e8e8ff"/><stop offset="0.6938" stop-color="#c0c0ff"/><stop offset="0.7000" stop-color="#bcbcff"/><stop offset="0.7500" stop-color="#9a9aff"/><stop offset="0.8000" stop-color="#7979ff"/><stop offset="0.8500" stop-color="#5858ff"/><stop offset="0.9000" stop-color="#3737ff"/><stop offset="0.9500" stop-color="#1616ff"/><stop offset="1.0000" stop-color="#0000f7"/></linearGradient><linearGradient id="g53" x1="0" y1="0" x2="0" y2="1"><stop offset="0.0000" stop-color="#f50000"/><stop offset="0.0500" stop-color="#fa0000"/><stop offset="0.1000" stop-color="#ff0a0a"/><stop offset="0.1500" stop-color="#ff3939"/><stop offset="0.2000" stop-color="#ff6767"/><stop offset="0.2500" stop-color="#ff9696"/><stop offset="0.3000" stop-color="#ffc4c4"/><stop offset="0.3087" stop-color="#ffcdcd"/><stop offset="0.3087" stop-color="#fff0f0"/><stop offset="0.4997" stop-color="#fffdfd"/><stop offset="0.6470" stop-color="#fbfbff"/><stop offset="0.6906" stop-color="#efefff"/><stop offset="0.6906" stop-color="#c9c9ff"/><stop offset="0.7000" stop-color="#c3c3ff"/><stop offset="0.7500" stop-color="#a2a2ff"/><stop offset="0.8000" stop-color="#8080ff"/><stop offset="0.8500" stop-color="#5f5fff"/><stop offset="0.9000" stop-color="#3e3eff"/><stop offset="0.9500" stop-color="#1d1dff"/><stop offset="1.0000" stop-color="#0000fc"/></linearGradient><linearGradient id="g54" x1="0" y1="0" x2="0" y2="1"><stop offset="0.0000" stop-color="#f70000"/><stop offset="0.0500" stop-color="#fc0000"/><stop offset="0.1000" stop-color="#ff0404"/><stop offset="0.1500" stop-color="#ff3333"/><stop offset="0.2000" stop-color="#ff6161"/><stop offset="0.2500" stop-color="#ff9090"/><stop offset="0.3000" stop-color="#ffbfbf"/><stop offset="0.3122" stop-color="#ffcaca"/><stop offset="0.3122" stop-color="#fff7f7"/><stop offset="0.5000" stop-color="#fdfdff"/><stop offset="0.6443" stop-color="#f7f7ff"/><stop offset="0.6879" stop-color="#e9e9ff"/><stop offset="0.6879" stop-color="#cacaff"/><stop offset="0.7400" stop-color="#a8a8ff"/><stop offset="0.7900" stop-color="#8787ff"/><stop offset="0.8400" stop-color="#6565ff"/><stop offset="0.8900" stop-color="#4444ff"/><stop offset="0.9400" stop-color="#2323ff"/><stop offset="0.9900" stop-color="#0202ff"/><stop offset="1.0000" stop-color="#0000fc"/></linearGradient><linearGradient id="g55" x1="0" y1="0" x2="0" y2="1"><stop offset="0.0000" stop-color="#f60000"/><stop offset="0.0500" stop-color="#fb0000"/><stop offset="0.1000" stop-color="#ff0c0c"/><stop offset="0.1500" stop-color="#ff3b3b"/><stop offset="0.2000" stop-color="#ff6969"/><stop offset="0.2500" stop-color="#ff9898"/><stop offset="0.3000" stop-color="#ffc7c7"/><stop offset="0.3163" stop-color="#ffd6d6"/><stop offset="0.3163" stop-color="#fff4f4"/><stop offset="0.5005" stop-color="#ffffff"/><stop offset="0.6411" stop-color="#f9f9ff"/><stop offset="0.6846" stop-color="#ebebff"/><stop offset="0.6846" stop-color="#cdcdff"/><stop offset="0.6900" stop-color="#cacaff"/><stop offset="0.7400" stop-color="#a8a8ff"/><stop offset="0.7900" stop-color="#8787ff"/><stop offset="0.8400" stop-color="#6666ff"/><stop offset="0.8900" stop-color="#4545ff"/><stop offset="0.9400" stop-color="#2424ff"/><stop offset="0.9900" stop-color="#0303ff"/><stop offset="1.0000" stop-color="#0000fc"/></linearGradient><linearGradient id="g56" x1="0" y1="0" x2="0" y2="1"><stop offset="0.0000" stop-color="#f60000"/><stop offset="0.0500" stop-color="#fb0000"/><stop offset="0.1000" stop-color="#ff1616"/><stop offset="0.1500" stop-color="#ff4545"/><stop offset="0.2000" stop-color="#ff7373"/><stop offset="0.2500" stop-color="#ffa2a2"/><stop offset="0.3000" stop-color="#ffd0d0"/><stop offset="0.3226" stop-color="#ffe5e5"/><stop offset="0.3226" stop-color="#fff2f2"/><stop offset="0.5012" stop-color="#fffefe"/><stop offset="0.6362" stop-color="#fafaff"/><stop offset="0.6798" stop-color="#ededff"/><stop offset="0.6798" stop-color="#d1d1ff"/><stop offset="0.7300" stop-color="#b0b0ff"/><stop offset="0.7800" stop-color="#8f8fff"/><stop offset="0.8300" stop-color="#6e6eff"/><stop offset="0.8800" stop-color="#4c4cff"/><stop offset="0.9300" stop-color="#2b2bff"/><stop offset="0.9800" stop-color="#0a0aff"/><stop offset="1.0000" stop-color="#0000fd"/></linearGradient><linearGradient id="g57" x1="0" y1="0" x2="0" y2="1"><stop offset="0.0000" stop-color="#f60000"/><stop offset="0.0500" stop-color="#fa0000"/><stop offset="0.1000" stop-color="#ff1212"/><stop offset="0.1500" stop-color="#ff4040"/><stop offset="0.2000" stop-color="#ff6f6f"/><stop offset="0.2500" stop-color="#ff9d9d"/><stop offset="0.3000" stop-color="#ffcccc"/><stop offset="0.3274" stop-color="#ffe5e5"/><stop offset="0.3274" stop-color="#fff2f2"/><stop offset="0.5017" stop-color="#fffefe"/><stop offset="0.6324" stop-color="#fafaff"/><stop offset="0.6760" stop-color="#ededff"/><stop offset="0.6760" stop-color="#ceceff"/><stop offset="0.6800" stop-color="#ccccff"/><stop offset="0.7300" stop-color="#ababff"/><stop offset="0.7800" stop-color="#8989ff"/><stop offset="0.8300" stop-color="#6868ff"/><stop offset="0.8800" stop-color="#4747ff"/><stop offset="0.9300" stop-color="#2626ff"/><stop offset="0.9800" stop-color="#0505ff"/><stop offset="1.0000" stop-color="#0000f9"/></linearGradient><linearGradient id="g58" x1="0" y1="0" x2="0" y2="1"><stop offset="0.0000" stop-color="#f50000"/><stop offset="0.0500" stop-color="#fa0000"/><stop offset="0.1000" stop-color="#ff0000"/><stop offset="0.1500" stop-color="#ff2e2e"/><stop offset="0.2000" stop-color="#ff5d5d"/><stop offset="0.2500" stop-color="#ff8c8c"/><stop offset="0.3000" stop-color="#ffbaba"/><stop offset="0.3316" stop-color="#ffd7d7"/><stop offset="0.3316" stop-color="#fff1f1"/><stop offset="0.5021" stop-color="#fffefe"/><stop offset="0.6292" stop-color="#fbfbff"/><stop offset="0.6727" stop-color="#eeeeff"/><stop offset="0.6727" stop-color="#d2d2ff"/><stop offset="0.6800" stop-color="#cdcdff"/><stop offset="0.7300" stop-color="#acacff"/><stop offset="0.7800" stop-color="#8b8bff"/><stop offset="0.8300" stop-color="#6a6aff"/><stop offset="0.8800" stop-color="#4848ff"/><stop offset="0.9300" stop-color="#2727ff"/><stop offset="0.9800" stop-color="#0606ff"/><stop offset="1.0000" stop-color="#0000fa"/></linearGradient><linearGradient id="g59" x1="0" y1="0" x2="0" y2="1"><stop offset="0.0000" stop-color="#f80000"/><stop offset="0.0500" stop-color="#fc0000"/><stop offset="0.1000" stop-color="#ff0404"/><stop offset="0.1500" stop-color="#ff3232"/><stop offset="0.2000" stop-color="#ff6161"/><stop offset="0.2500" stop-color="#ff8f8f"/><stop offset="0.3000" stop-color="#ffbebe"/><stop offset="0.3357" stop-color="#ffdfdf"/><stop offset="0.3357" stop-color="#fff4f4"/><stop offset="0.5026" stop-color="#ffffff"/><stop offset="0.6259" stop-color="#f9f9ff"/><stop offset="0.6695" stop-color="#ececff"/><stop offset="0.6695" stop-color="#d2d2ff"/><stop offset="0.7200" stop-color="#b1b1ff"/><stop offset="0.7700" stop-color="#8f8fff"/><stop offset="0.8200" stop-color="#6e6eff"/><stop offset="0.8700" stop-color="#4d4dff"/><stop offset="0.9200" stop-color="#2c2cff"/><stop offset="0.9700" stop-color="#0b0bff"/><stop offset="1.0000" stop-color="#0000f9"/></linearGradient><linearGradient id="g60" x1="0" y1="0" x2="0" y2="1"><stop offset="0.0000" stop-color="#f20000"/><stop offset="0.0500" stop-color="#f70000"/><stop offset="0.1000" stop-color="#ff0606"/><stop offset="0.1500" stop-color="#ff3535"/><stop offset="0.2000" stop-color="#ff6363"/><stop offset="0.2500" stop-color="#ff9292"/><stop offset="0.3000" stop-color="#ffc0c0"/><stop offset="0.3399" stop-color="#ffe5e5"/><stop offset="0.3399" stop-color="#fff7f7"/><stop offset="0.5031" stop-color="#fdfdff"/><stop offset="0.6227" stop-color="#f7f7ff"/><stop offset="0.6663" stop-color="#e9e9ff"/><stop offset="0.6663" stop-color="#d3d3ff"/><stop offset="0.6700" stop-color="#d1d1ff"/><stop offset="0.7200" stop-color="#b0b0ff"/><stop offset="0.7700" stop-color="#8e8eff"/><stop offset="0.8200" stop-color="#6d6dff"/><stop offset="0.8700" stop-color="#4c4cff"/><stop offset="0.9200" stop-color="#2b2bff"/><stop offset="0.9700" stop-color="#0a0aff"/><stop offset="1.0000" stop-color="#0000f8"/></linearGradient><linearGradient id="g61" x1="0" y1="0" x2="0" y2="1"><stop offset="0.0000" stop-color="#f90000"/><stop offset="0.0500" stop-color="#fe0000"/><stop offset="0.1000" stop-color="#ff0e0e"/><stop offset="0.1500" stop-color="#ff3c3c"/><stop offset="0.2000" stop-color="#ff6b6b"/><stop offset="0.2500" stop-color="#ff9999"/><stop offset="0.3000" stop-color="#ffc8c8"/><stop offset="0.3447" stop-color="#fff1f1"/><stop offset="0.3447" stop-color="#fff2f2"/><stop offset="0.5036" stop-color="#fffefe"/><stop offset="0.6189" stop-color="#fafaff"/><stop offset="0.6625" stop-color="#ededff"/><stop offset="0.6625" stop-color="#dedeff"/><stop offset="0.6700" stop-color="#d9d9ff"/><stop offset="0.7200" stop-color="#b8b8ff"/><stop offset="0.7700" stop-color="#9797ff"/><stop offset="0.8200" stop-color="#7676ff"/><stop offset="0.8700" stop-color="#5555ff"/><stop offset="0.9200" stop-color="#3434ff"/><stop offset="0.9700" stop-color="#1212ff"/><stop offset="1.0000" stop-color="#0000fe"/></linearGradient><linearGradient id="g62" x1="0" y1="0" x2="0" y2="1"><stop offset="0.0000" stop-color="#f80000"/><stop offset="0.0500" stop-color="#fd0000"/><stop offset="0.1000" stop-color="#ff1111"/><stop offset="0.1500" stop-color="#ff3f3f"/><stop offset="0.2000" stop-color="#ff6e6e"/><stop offset="0.2500" stop-color="#ff9c9c"/><stop offset="0.3000" stop-color="#ffcbcb"/><stop offset="0.3513" stop-color="#fffbfb"/><stop offset="0.3513" stop-color="#fff6f6"/><stop offset="0.5043" stop-color="#fdfdff"/><stop offset="0.6137" stop-color="#f7f7ff"/><stop offset="0.6572" stop-color="#eaeaff"/><stop offset="0.6572" stop-color="#e4e4ff"/><stop offset="0.7100" stop-color="#c1c1ff"/><stop offset="0.7600" stop-color="#a0a0ff"/><stop offset="0.8100" stop-color="#7f7fff"/><stop offset="0.8600" stop-color="#5e5eff"/><stop offset="0.9100" stop-color="#3d3dff"/><stop offset="0.9600" stop-color="#1c1cff"/><stop offset="1.0000" stop-color="#0101ff"/></linearGradient><linearGradient id="g63" x1="0" y1="0" x2="0" y2="1"><stop offset="0.0000" stop-color="#fb0000"/><stop offset="0.0500" stop-color="#ff0a0a"/><stop offset="0.1000" stop-color="#ff2b2b"/><stop offset="0.1500" stop-color="#ff4d4d"/><stop offset="0.2000" stop-color="#ff6f6f"/><stop offset="0.2500" stop-color="#ff9090"/><stop offset="0.3000" stop-color="#ffb2b2"/><stop offset="0.3500" stop-color="#ffd4d4"/><stop offset="0.4000" stop-color="#fff5f5"/><stop offset="0.4500" stop-color="#fffefe"/><stop offset="0.5000" stop-color="#fffefe"/><stop offset="0.5500" stop-color="#fffefe"/><stop offset="0.6000" stop-color="#efefff"/><stop offset="0.6500" stop-color="#ceceff"/><stop offset="0.7000" stop-color="#aeaeff"/><stop offset="0.7500" stop-color="#8e8eff"/><stop offset="0.8000" stop-color="#6d6dff"/><stop offset="0.8500" stop-color="#4d4dff"/><stop offset="0.9000" stop-color="#2c2cff"/><stop offset="0.9500" stop-color="#0c0cff"/><stop offset="1.0000" stop-color="#0000fb"/></linearGradient><linearGradient id="g64" x1="0" y1="0" x2="0" y2="1"><stop offset="0.0000" stop-color="#fc0000"/><stop offset="0.0500" stop-color="#ff0d0d"/><stop offset="0.1000" stop-color="#ff2e2e"/><stop offset="0.1500" stop-color="#ff4f4f"/><stop offset="0.2000" stop-color="#ff7171"/><stop offset="0.2500" stop-color="#ff9292"/><stop offset="0.3000" stop-color="#ffb4b4"/><stop offset="0.3500" stop-color="#ffd5d5"/><stop offset="0.4000" stop-color="#fff6f6"/><stop offset="0.4500" stop-color="#fffefe"/><stop offset="0.5000" stop-color="#fffefe"/><stop offset="0.5500" stop-color="#fffefe"/><stop offset="0.6000" stop-color="#e9e9ff"/><stop offset="0.6500" stop-color="#c9c9ff"/><stop offset="0.7000" stop-color="#a8a8ff"/><stop offset="0.7500" stop-color="#8888ff"/><stop offset="0.8000" stop-color="#6868ff"/><stop offset="0.8500" stop-color="#4848ff"/><stop offset="0.9000" stop-color="#2828ff"/><stop offset="0.9500" stop-color="#0808ff"/><stop offset="1.0000" stop-color="#0000fb"/></linearGradient><linearGradient id="g65" x1="0" y1="0" x2="0" y2="1"><stop offset="0.0000" stop-color="#fc0000"/><stop offset="0.0500" stop-color="#ff0c0c"/><stop offset="0.1000" stop-color="#ff2d2d"/><stop offset="0.1500" stop-color="#ff4e4e"/><stop offset="0.2000" stop-color="#ff7070"/><stop offset="0.2500" stop-color="#ff9191"/><stop offset="0.3000" stop-color="#ffb2b2"/><stop offset="0.3500" stop-color="#ffd4d4"/><stop offset="0.4000" stop-color="#fff5f5"/><stop offset="0.4500" stop-color="#ffffff"/><stop offset="0.5000" stop-color="#ffffff"/><stop offset="0.5500" stop-color="#ffffff"/><stop offset="0.6000" stop-color="#e1e1ff"/><stop offset="0.6500" stop-color="#c1c1ff"/><stop offset="0.7000" stop-color="#a1a1ff"/><stop offset="0.7500" stop-color="#8080ff"/><stop offset="0.8000" stop-color="#6060ff"/><stop offset="0.8500" stop-color="#4040ff"/><stop offset="0.9000" stop-color="#2020ff"/><stop offset="0.9500" stop-color="#0000ff"/><stop offset="1.0000" stop-color="#0000fa"/></linearGradient><linearGradient id="g66" x1="0" y1="0" x2="0" y2="1"><stop offset="0.0000" stop-color="#ff0a0a"/><stop offset="0.0500" stop-color="#ff1d1d"/><stop offset="0.1000" stop-color="#ff3d3d"/><stop offset="0.1500" stop-color="#ff5d5d"/><stop offset="0.2000" stop-color="#ff7d7d"/><stop offset="0.2500" stop-color="#ff9d9d"/><stop offset="0.3000" stop-color="#ffbdbd"/><stop offset="0.3500" stop-color="#ffdddd"/><stop offset="0.4000" stop-color="#fffdfd"/><stop offset="0.4500" stop-color="#fcfcff"/><stop offset="0.5000" stop-color="#fcfcff"/><stop offset="0.5500" stop-color="#fcfcff"/><stop offset="0.6000" stop-color="#e1e1ff"/><stop offset="0.6500" stop-color="#c3c3ff"/><stop offset="0.7000" stop-color="#a4a4ff"/><stop offset="0.7500" stop-color="#8585ff"/><stop offset="0.8000" stop-color="#6767ff"/><stop offset="0.8500" stop-color="#4848ff"/><stop offset="0.9000" stop-color="#2929ff"/><stop offset="0.9500" stop-color="#0b0bff"/><stop offset="1.0000" stop-color="#0101ff"/></linearGradient><linearGradient id="g67" x1="0" y1="0" x2="0" y2="1"><stop offset="0.0000" stop-color="#fe0000"/><stop offset="0.0500" stop-color="#ff1010"/><stop offset="0.1000" stop-color="#ff3131"/><stop offset="0.1500" stop-color="#ff5252"/><stop offset="0.2000" stop-color="#ff7272"/><stop offset="0.2500" stop-color="#ff9393"/><stop offset="0.3000" stop-color="#ffb4b4"/><stop offset="0.3500" stop-color="#ffd5d5"/><stop offset="0.4000" stop-color="#fff6f6"/><stop offset="0.4500" stop-color="#fefeff"/><stop offset="0.5000" stop-color="#fefeff"/><stop offset="0.5500" stop-color="#f6f6ff"/><stop offset="0.6000" stop-color="#d7d7ff"/><stop offset="0.6500" stop-color="#b7b7ff"/><stop offset="0.7000" stop-color="#9797ff"/><stop offset="0.7500" stop-color="#7878ff"/><stop offset="0.8000" stop-color="#5858ff"/><stop offset="0.8500" stop-color="#3939ff"/><stop offset="0.9000" stop-color="#1919ff"/><stop offset="0.9500" stop-color="#0000ff"/><stop offset="1.0000" stop-color="#0000fa"/></linearGradient><linearGradient id="g68" x1="0" y1="0" x2="0" y2="1"><stop offset="0.0000" stop-color="#ff0101"/><stop offset="0.0500" stop-color="#ff2323"/><stop offset="0.1000" stop-color="#ff4444"/><stop offset="0.1500" stop-color="#ff6666"/><stop offset="0.2000" stop-color="#ff8787"/><stop offset="0.2500" stop-color="#ffa9a9"/><stop offset="0.3000" stop-color="#ffcaca"/><stop offset="0.3500" stop-color="#ffecec"/><stop offset="0.4000" stop-color="#fffefe"/><stop offset="0.4500" stop-color="#fffefe"/><stop offset="0.5000" stop-color="#fffefe"/><stop offset="0.5500" stop-color="#fffefe"/><stop offset="0.6000" stop-color="#fffefe"/><stop offset="0.6500" stop-color="#e2e2ff"/><stop offset="0.7000" stop-color="#c1c1ff"/><stop offset="0.7500" stop-color="#a1a1ff"/><stop offset="0.8000" stop-color="#8181ff"/><stop offset="0.8500" stop-color="#6161ff"/><stop offset="0.9000" stop-color="#4141ff"/><stop offset="0.9500" stop-color="#2020ff"/><stop offset="1.0000" stop-color="#0000ff"/></linearGradient><linearGradient id="g69" x1="0" y1="0" x2="0" y2="1"><stop offset="0.0000" stop-color="#ff0000"/><stop offset="0.0500" stop-color="#ff2222"/><stop offset="0.1000" stop-color="#ff4343"/><stop offset="0.1500" stop-color="#ff6464"/><stop offset="0.2000" stop-color="#ff8585"/><stop offset="0.2500" stop-color="#ffa7a7"/><stop offset="0.3000" stop-color="#ffc8c8"/><stop offset="0.3500" stop-color="#ffe9e9"/><stop offset="0.4000" stop-color="#ffffff"/><stop offset="0.4500" stop-color="#ffffff"/><stop offset="0.5000" stop-color="#ffffff"/><stop offset="0.5500" stop-color="#ffffff"/><stop offset="0.6000" stop-color="#fafaff"/><stop offset="0.6500" stop-color="#dadaff"/><stop offset="0.7000" stop-color="#babaff"/><stop offset="0.7500" stop-color="#9a9aff"/><stop offset="0.8000" stop-color="#7a7aff"/><stop offset="0.8500" stop-color="#5a5aff"/><stop offset="0.9000" stop-color="#3a3aff"/><stop offset="0.9500" stop-color="#1a1aff"/><stop offset="1.0000" stop-color="#0000fe"/></linearGradient><linearGradient id="g70" x1="0" y1="0" x2="0" y2="1"><stop offset="0.0000" stop-color="#ff0101"/><stop offset="0.0500" stop-color="#ff1e1e"/><stop offset="0.1000" stop-color="#ff3f3f"/><stop offset="0.1500" stop-color="#ff6060"/><stop offset="0.2000" stop-color="#ff8181"/><stop offset="0.2500" stop-color="#ffa2a2"/><stop offset="0.3000" stop-color="#ffc3c3"/><stop offset="0.3500" stop-color="#ffe4e4"/><stop offset="0.4000" stop-color="#ffffff"/><stop offset="0.4500" stop-color="#ffffff"/><stop offset="0.5000" stop-color="#ffffff"/><stop offset="0.5500" stop-color="#ffffff"/><stop offset="0.6000" stop-color="#eeeeff"/><stop offset="0.6500" stop-color="#ceceff"/><stop offset="0.7000" stop-color="#afafff"/><stop offset="0.7500" stop-color="#8f8fff"/><stop offset="0.8000" stop-color="#6f6fff"/><stop offset="0.8500" stop-color="#4f4fff"/><stop offset="0.9000" stop-color="#3030ff"/><stop offset="0.9500" stop-color="#1010ff"/><stop offset="1.0000" stop-color="#0000fd"/></linearGradient><linearGradient id="g71" x1="0" y1="0" x2="0" y2="1"><stop offset="0.0000" stop-color="#fd0000"/><stop offset="0.0500" stop-color="#ff1a1a"/><stop offset="0.1000" stop-color="#ff3c3c"/><stop offset="0.1500" stop-color="#ff5d5d"/><stop offset="0.2000" stop-color="#ff7f7f"/><stop offset="0.2500" stop-color="#ffa0a0"/><stop offset="0.3000" stop-color="#ffc2c2"/><stop offset="0.3500" stop-color="#ffe4e4"/><stop offset="0.4000" stop-color="#fffefe"/><stop offset="0.4500" stop-color="#fffefe"/><stop offset="0.5000" stop-color="#fffefe"/><stop offset="0.5500" stop-color="#fffefe"/><stop offset="0.6000" stop-color="#f1f1ff"/><stop offset="0.6500" stop-color="#d1d1ff"/><stop offset="0.7000" stop-color="#b1b1ff"/><stop offset="0.7500" stop-color="#9090ff"/><stop offset="0.8000" stop-color="#7070ff"/><stop offset="0.8500" stop-color="#5050ff"/><stop offset="0.9000" stop-color="#3030ff"/><stop offset="0.9500" stop-color="#1010ff"/><stop offset="1.0000" stop-color="#0000fc"/></linearGradient><linearGradient id="g72" x1="0" y1="0" x2="0" y2="1"><stop offset="0.0000" stop-color="#ff0606"/><stop offset="0.0500" stop-color="#ff2727"/><stop offset="0.1000" stop-color="#ff4848"/><stop offset="0.1500" stop-color="#ff6a6a"/><stop offset="0.2000" stop-color="#ff8b8b"/><stop offset="0.2500" stop-color="#ffacac"/><stop offset="0.3000" stop-color="#ffcdcd"/><stop offset="0.3500" stop-color="#ffeeee"/><stop offset="0.4000" stop-color="#ffffff"/><stop offset="0.4500" stop-color="#ffffff"/><stop offset="0.5000" stop-color="#ffffff"/><stop offset="0.5500" stop-color="#ffffff"/><stop offset="0.6000" stop-color="#ffffff"/><stop offset="0.6500" stop-color="#e3e3ff"/><stop offset="0.7000" stop-color="#c3c3ff"/><stop offset="0.7500" stop-color="#a3a3ff"/><stop offset="0.8000" stop-color="#8383ff"/><stop offset="0.8500" stop-color="#6363ff"/><stop offset="0.9000" stop-color="#4343ff"/><stop offset="0.9500" stop-color="#2323ff"/><stop offset="1.0000" stop-color="#0303ff"/></linearGradient><linearGradient id="g73" x1="0" y1="0" x2="0" y2="1"><stop offset="0.0000" stop-color="#ff0000"/><stop offset="0.0500" stop-color="#ff1f1f"/><stop offset="0.1000" stop-color="#ff4040"/><stop offset="0.1500" stop-color="#ff6161"/><stop offset="0.2000" stop-color="#ff8383"/><stop offset="0.2500" stop-color="#ffa4a4"/><stop offset="0.3000" stop-color="#ffc5c5"/><stop offset="0.3500" stop-color="#ffe6e6"/><stop offset="0.4000" stop-color="#ffffff"/><stop offset="0.4500" stop-color="#ffffff"/><stop offset="0.5000" stop-color="#ffffff"/><stop offset="0.5500" stop-color="#ffffff"/><stop offset="0.6000" stop-color="#f3f3ff"/><stop offset="0.6500" stop-color="#d3d3ff"/><stop offset="0.7000" stop-color="#b3b3ff"/><stop offset="0.7500" stop-color="#9393ff"/><stop offset="0.8000" stop-color="#7373ff"/><stop offset="0.8500" stop-color="#5353ff"/><stop offset="0.9000" stop-color="#3333ff"/><stop offset="0.9500" stop-color="#1313ff"/><stop offset="1.0000" stop-color="#0000fd"/></linearGradient><linearGradient id="g74" x1="0" y1="0" x2="0" y2="1"><stop offset="0.0000" stop-color="#ff0202"/><stop offset="0.0500" stop-color="#ff2323"/><stop offset="0.1000" stop-color="#ff4444"/><stop offset="0.1500" stop-color="#ff6565"/><stop offset="0.2000" stop-color="#ff8686"/><stop offset="0.2500" stop-color="#ffa7a7"/><stop offset="0.3000" stop-color="#ffc8c8"/><stop offset="0.3500" stop-color="#ffe9e9"/><stop offset="0.4000" stop-color="#ffffff"/><stop offset="0.4500" stop-color="#ffffff"/><stop offset="0.5000" stop-color="#ffffff"/><stop offset="0.5500" stop-color="#ffffff"/><stop offset="0.6000" stop-color="#f7f7ff"/><stop offset="0.6500" stop-color="#d7d7ff"/><stop offset="0.7000" stop-color="#b8b8ff"/><stop offset="0.7500" stop-color="#9898ff"/><stop offset="0.8000" stop-color="#7878ff"/><stop offset="0.8500" stop-color="#5959ff"/><stop offset="0.9000" stop-color="#3939ff"/><stop offset="0.9500" stop-color="#1919ff"/><stop offset="1.0000" stop-color="#0000ff"/></linearGradient><linearGradient id="g75" x1="0" y1="0" x2="0" y2="1"><stop offset="0.0000" stop-color="#ff0707"/><stop offset="0.0500" stop-color="#ff2626"/><stop offset="0.1000" stop-color="#ff4646"/><stop offset="0.1500" stop-color="#ff6767"/><stop offset="0.2000" stop-color="#ff8787"/><stop offset="0.2500" stop-color="#ffa8a8"/><stop offset="0.3000" stop-color="#ffc8c8"/><stop offset="0.3500" stop-color="#ffe8e8"/><stop offset="0.4000" stop-color="#fdfdff"/><stop offset="0.4500" stop-color="#fdfdff"/><stop offset="0.5000" stop-color="#fdfdff"/><stop offset="0.5500" stop-color="#fdfdff"/><stop offset="0.6000" stop-color="#f1f1ff"/><stop offset="0.6500" stop-color="#d1d1ff"/><stop offset="0.7000" stop-color="#b2b2ff"/><stop offset="0.7500" stop-color="#9393ff"/><stop offset="0.8000" stop-color="#7474ff"/><stop offset="0.8500" stop-color="#5555ff"/><stop offset="0.9000" stop-color="#3636ff"/><stop offset="0.9500" stop-color="#1717ff"/><stop offset="1.0000" stop-color="#0101ff"/></linearGradient><linearGradient id="g76" x1="0" y1="0" x2="0" y2="1"><stop offset="0.0000" stop-color="#ff1010"/><stop offset="0.0500" stop-color="#ff3030"/><stop offset="0.1000" stop-color="#ff5050"/><stop offset="0.1500" stop-color="#ff7171"/><stop offset="0.2000" stop-color="#ff9191"/><stop offset="0.2500" stop-color="#ffb1b1"/><stop offset="0.3000" stop-color="#ffd1d1"/><stop offset="0.3500" stop-color="#fff2f2"/><stop offset="0.4000" stop-color="#fdfdff"/><stop offset="0.4500" stop-color="#fdfdff"/><stop offset="0.5000" stop-color="#fdfdff"/><stop offset="0.5500" stop-color="#fdfdff"/><stop offset="0.6000" stop-color="#fdfdff"/><stop offset="0.6500" stop-color="#e2e2ff"/><stop offset="0.7000" stop-color="#c3c3ff"/><stop offset="0.7500" stop-color="#a4a4ff"/><stop offset="0.8000" stop-color="#8585ff"/><stop offset="0.8500" stop-color="#6666ff"/><stop offset="0.9000" stop-color="#4747ff"/><stop offset="0.9500" stop-color="#2828ff"/><stop offset="1.0000" stop-color="#0909ff"/></linearGradient><linearGradient id="g77" x1="0" y1="0" x2="0" y2="1"><stop offset="0.0000" stop-color="#ff0000"/><stop offset="0.0500" stop-color="#ff1212"/><stop offset="0.1000" stop-color="#ff3333"/><stop offset="0.1500" stop-color="#ff5454"/><stop offset="0.2000" stop-color="#ff7575"/><stop offset="0.2500" stop-color="#ff9696"/><stop offset="0.3000" stop-color="#ffb6b6"/><stop offset="0.3500" stop-color="#ffd7d7"/><stop offset="0.4000" stop-color="#fff8f8"/><stop offset="0.4500" stop-color="#fefeff"/><stop offset="0.5000" stop-color="#fefeff"/><stop offset="0.5500" stop-color="#f3f3ff"/><stop offset="0.6000" stop-color="#d3d3ff"/><stop offset="0.6500" stop-color="#b4b4ff"/><stop offset="0.7000" stop-color="#9494ff"/><stop offset="0.7500" stop-color="#7575ff"/><stop offset="0.8000" stop-color="#5555ff"/><stop offset="0.8500" stop-color="#3636ff"/><stop offset="0.9000" stop-color="#1616ff"/><stop offset="0.9500" stop-color="#0000ff"/><stop offset="1.0000" stop-color="#0000fa"/></linearGradient><linearGradient id="g78" x1="0" y1="0" x2="0" y2="1"><stop offset="0.0000" stop-color="#ff0000"/><stop offset="0.0500" stop-color="#ff1313"/><stop offset="0.1000" stop-color="#ff3434"/><stop offset="0.1500" stop-color="#ff5555"/><stop offset="0.2000" stop-color="#ff7676"/><stop offset="0.2500" stop-color="#ff9797"/><stop offset="0.3000" stop-color="#ffb8b8"/><stop offset="0.3500" stop-color="#ffd8d8"/><stop offset="0.4000" stop-color="#fff9f9"/><stop offset="0.4500" stop-color="#fefeff"/><stop offset="0.5000" stop-color="#fefeff"/><stop offset="0.5500" stop-color="#f6f6ff"/><stop offset="0.6000" stop-color="#d6d6ff"/><stop offset="0.6500" stop-color="#b7b7ff"/><stop offset="0.7000" stop-color="#9797ff"/><stop offset="0.7500" stop-color="#7777ff"/><stop offset="0.8000" stop-color="#5858ff"/><stop offset="0.8500" stop-color="#3838ff"/><stop offset="0.9000" stop-color="#1818ff"/><stop offset="0.9500" stop-color="#0000ff"/><stop offset="1.0000" stop-color="#0000fa"/></linearGradient><linearGradient id="g79" x1="0" y1="0" x2="0" y2="1"><stop offset="0.0000" stop-color="#ff0707"/><stop offset="0.0500" stop-color="#ff1717"/><stop offset="0.1000" stop-color="#ff3737"/><stop offset="0.1500" stop-color="#ff5757"/><stop offset="0.2000" stop-color="#ff7777"/><stop offset="0.2500" stop-color="#ff9797"/><stop offset="0.3000" stop-color="#ffb7b7"/><stop offset="0.3500" stop-color="#ffd7d7"/><stop offset="0.4000" stop-color="#fff7f7"/><stop offset="0.4500" stop-color="#fcfcff"/><stop offset="0.5000" stop-color="#fcfcff"/><stop offset="0.5500" stop-color="#ebebff"/><stop offset="0.6000" stop-color="#ccccff"/><stop offset="0.6500" stop-color="#adadff"/><stop offset="0.7000" stop-color="#8f8fff"/><stop offset="0.7500" stop-color="#7070ff"/><stop offset="0.8000" stop-color="#5151ff"/><stop offset="0.8500" stop-color="#3232ff"/><stop offset="0.9000" stop-color="#1313ff"/><stop offset="0.9500" stop-color="#0202ff"/><stop offset="1.0000" stop-color="#0000fc"/></linearGradient>
<clipPath id="clipE"><rect x="59.4" y="468" width="267.4" height="275.4"/></clipPath>
<filter id="soft" x="-5%" y="-5%" width="110%" height="110%"><feGaussianBlur stdDeviation="0.35"/></filter>
<clipPath id="clipA"><rect x="9" y="12" width="141.5" height="94.6"/></clipPath>
<clipPath id="clipB"><rect x="9" y="110.5" width="141.5" height="91.2"/></clipPath>
</defs>

<g clip-path="url(#clipA)">
<rect x="9" y="12" width="142" height="95" fill="#747474"/>
<g filter="url(#soft)">
<path d="M89.5,12 Q84,30 78,50 Q72,66 66,80 Q70,95 76,107 L151,107 L151,12Z" fill="#707070"/>
<path d="M74,12 L82.3,12 Q80,20 74.5,26 L70.5,28.9 L61.3,29.7 Q68,21 74,12Z" fill="#8c8c8c"/>
<path d="M61.3,29.7 L70.5,28.9 L73.9,33.9 L77.5,50 L73.9,62.6 L69.7,66.8 L48.6,53.3 Z" fill="#7e7e7e"/>
<path d="M73.9,33.9 L78.5,37 L78,52 L73.9,62.6 L71,58 Z" fill="#acacac"/>
<path d="M48.6,54 L69.7,66.8 L62.1,69.3 L41.9,62.6 Z" fill="#a2a2a2"/>
<path d="M41.9,62.6 L62.1,69.3 L56.2,86.2 L46.9,88.7 L35.1,86.2 L32.6,81.2 Z" fill="#808080"/>
<path d="M54,68 L62.1,69.3 L56.2,86.2 L52,87.5 Z" fill="#a6a6a6"/>
<path d="M35.1,71 L41,72 L43.6,77.8 L38,80 Z" fill="#a4a4a4"/>
<path d="M38.5,88 L56.2,86.2 L68.9,107 L58.7,107 Z" fill="#878787"/>
<path d="M82.3,12 Q80,20 74.5,26 L70.5,28.9 L61.3,29.7 L48.6,53.3 L69.7,66.8 L73.9,62.6 L75.6,56" fill="none" stroke="#f8f8f8" stroke-width="2.6" stroke-linejoin="round"/>
<path d="M52,53.3 L73.9,33.9" fill="none" stroke="#e4e4e4" stroke-width="1.1"/>
<path d="M73.9,33.9 L78.5,37 L78,52 L75.6,58" fill="none" stroke="#dadada" stroke-width="1.3"/>
<path d="M73.9,37.3 L84.9,39.8 L77.3,44 Z" fill="#b0b0b0" stroke="#dcdcdc" stroke-width="0.8"/>
<path d="M41.9,62.6 L62.1,69.3 L56.2,86.2 L46.9,88.7 L35.1,86.2 L32.6,81.2 Z" fill="none" stroke="#f8f8f8" stroke-width="2.6" stroke-linejoin="round"/>
<path d="M35.1,71 L41,72 L43.6,77.8 L38,80" fill="none" stroke="#e0e0e0" stroke-width="1.4"/>
<path d="M54,68 L52,87.5" fill="none" stroke="#d0d0d0" stroke-width="1"/>
<path d="M74,12 Q70,21 61.3,29.7" fill="none" stroke="#b4b4b4" stroke-width="0.9"/>
<path d="M38.5,89.6 L60.4,107 M56.2,87 L68.9,107" fill="none" stroke="#b8b8b8" stroke-width="1"/>
<path d="M89.5,12 Q84,30 78,50 Q72,66 66,80 Q70,95 76,107" fill="none" stroke="#6a6a6a" stroke-width="0.8"/>
</g>
<text x="13.3" y="31.8" class="lab" font-size="19" fill="#fff">a</text>
<text x="107" y="91.9" font-family="Liberation Sans,sans-serif" font-size="14.6" letter-spacing="0.7" fill="#fff">1 μm</text>
<rect x="118" y="98.9" width="24.4" height="4.1" fill="#fff"/>
</g>

<g clip-path="url(#clipB)">
<rect x="9" y="110.5" width="142" height="91.2" fill="#747474"/>
<g filter="url(#soft)">
<path d="M9,149.3 Q13,152 15.8,151.9 Q22,151.5 26.1,151.1 Q31,149.5 34.7,148.5 Q42,147.8 48.3,147.6 Q56,147.2 60.3,146.8 Q66,145.5 71,144 L73.5,146 L75,160 Q70,159.5 65.5,159.6 Q50,160.5 43.2,161.3 Q25,164 17.6,164.7 L9,163 Z" fill="#7c7c7c"/>
<path d="M81.8,159.9 L92.9,154.1 L101.3,157 L88.7,173.9 L84,166 Z" fill="#939393"/>
<path d="M73.6,141 L78,136.7 L95.3,149.8 L92.9,154.1 L81.8,159.9 L70.7,149.3 Z" fill="#7a7a7a"/>
<path d="M78,136.7 L95.3,149.8 L92.9,154.1 L75.6,142.5 Z" fill="#8e8e8e"/>
<path d="M89.3,175.5 L102.6,157 L121.6,173.9 L118,177.5 L111,184.5 L103,183 Z" fill="#828282"/>
<path d="M112,183 L119.5,188.5 L117,178 Z" fill="#a8a8a8"/>
<path d="M104,184 L106,203 L112,203 L112.5,184 Z" fill="#8a8a8a"/>
<path d="M9,149.3 Q13,152 15.8,151.9 Q22,151.5 26.1,151.1 Q31,149.5 34.7,148.5 Q42,147.8 48.3,147.6 Q56,147.2 60.3,146.8 Q66,145.5 71,144.3" fill="none" stroke="#f4f4f4" stroke-width="2.2"/>
<path d="M9,163 L17.6,164.7 Q30,163 43.2,161.3 Q55,160 65.5,159.6" fill="none" stroke="#9a9a9a" stroke-width="0.8"/>
<path d="M15.8,156.2 L14.5,161.3" stroke="#cccccc" stroke-width="1.1"/>
<path d="M66.7,139.3 L71.8,138.5 L73.5,141" fill="none" stroke="#cccccc" stroke-width="1.2"/>
<path d="M69.8,145.9 L73.6,141 L78,136.7 Q79.5,135.3 81.2,136.6 L95.3,149.8 Q96.2,151.4 95,152.6 L92.9,154.1" fill="none" stroke="#f8f8f8" stroke-width="2.6" stroke-linejoin="round"/>
<path d="M75.6,142.5 L92.9,154.1" stroke="#d8d8d8" stroke-width="1"/>
<path d="M70.7,149.3 L81.8,159.9 L92.9,154.1" fill="none" stroke="#c4c4c4" stroke-width="1"/>
<path d="M67.9,139.2 L71.7,138.7 L70.7,142.5" fill="#a0a0a0" stroke="#cccccc" stroke-width="1"/>
<path d="M82,157.8 L98.8,157.8" stroke="#c8c8c8" stroke-width="0.9"/>
<path d="M89.3,175.5 L101.6,157.8 Q102.8,156.2 104.4,157.4 L121,172.3 Q122,173.9 120.6,175.2 L117.5,178" fill="none" stroke="#f8f8f8" stroke-width="2.6" stroke-linejoin="round"/>
<path d="M89.3,175.5 Q97,181 103,183.5 Q108,188 110,203" fill="none" stroke="#e8e8e8" stroke-width="1.8"/>
<path d="M118,177.5 L112,184.5 L111.5,203" fill="none" stroke="#e0e0e0" stroke-width="1.5"/>
<path d="M98.5,162.5 L119,176" stroke="#c8c8c8" stroke-width="1"/>
<path d="M112,183 L119.5,188.5 L117,178" fill="none" stroke="#d0d0d0" stroke-width="0.9"/>
<path d="M99.6,184 Q102,193 103,203" fill="none" stroke="#a8a8a8" stroke-width="1"/>
</g>
<text x="14.1" y="131.5" class="lab" font-size="19" fill="#fff">b</text>
<text x="14.6" y="186.2" font-family="Liberation Sans,sans-serif" font-size="15.4" letter-spacing="0.6" fill="#fff">1 μm</text>
<rect x="15.2" y="194.1" width="24.8" height="4.6" fill="#fff"/>
</g>

<g>
<text x="168.3" y="31.7" class="lab" font-size="18" fill="#000">c</text>
<!-- lower parallelogram (Vxx loop) -->
<path d="M201.3,115.5 L374.1,115.5 L329.4,159.7 L156.1,159.7 Z" fill="none" stroke="#2f5597" stroke-width="2"/>
<!-- upper rect (I loop) -->
<path d="M308,44 L236.6,44 L236.6,79.5 L407.4,79.5 L407.4,44 L342,44" fill="none" stroke="#2f5597" stroke-width="2.1"/>
<circle cx="319.6" cy="43.4" r="11.4" fill="none" stroke="#2f5597" stroke-width="2.1"/>
<circle cx="330.3" cy="43.4" r="11.4" fill="none" stroke="#2f5597" stroke-width="2.1"/>
<text x="343.6" y="35.8" font-family="Liberation Sans,sans-serif" font-weight="bold" font-size="24" fill="#2f5597">I</text>

<path d="M210.6,130.5 L278.5,62.5 L390,62.5 L322.5,130.5 Z" fill="#d9d9d9"/>
<path d="M210.6,130.5 L278.5,62.5 L308,62.5 L240,130.5 Z" fill="#6088d4"/>
<path d="M292,130.5 L359.5,62.5 L390,62.5 L322.5,130.5 Z" fill="#6088d4"/>
<path d="M210.6,130.5 L322.5,130.5 L322.5,135 L210.6,135 Z" fill="#d2d2d2"/>
<path d="M210.6,130.5 L240,130.5 L240,135 L210.6,135 Z" fill="#4472c4"/>
<path d="M292,130.5 L322.5,130.5 L322.5,135 L292,135 Z" fill="#4472c4"/>
<path d="M322.5,130.5 L390,62.5 L390,67.2 L322.5,135 Z" fill="#3d62a8"/>

<g stroke="#c00000" stroke-width="1.3" fill="none">
<path d="M266.2,110.1 L267.3,58"/>
<path d="M266.2,110.1 L299,110.1"/>
<path d="M266.2,110.1 L301,76"/>
</g>
<path d="M267.5,53.5 L264.5,61 L270.3,61 Z" fill="#c00000"/>
<path d="M303.5,110.1 L296.5,107.2 L296.5,113 Z" fill="#c00000"/>
<path d="M304.7,72.7 L297.2,76.2 L301.4,80.2 Z" fill="#c00000"/>
<path d="M266.2,110.1 L312,88" stroke="#548235" stroke-width="2.6" fill="none"/>
<path d="M319.6,83.2 L308.5,84.2 L312.8,92.3 Z" fill="#548235"/>
<path d="M290.6,98.6 A27,27 0 0 1 293.2,109.3" stroke="#bf9000" stroke-width="2.4" fill="none"/>
<text font-family="Liberation Sans,sans-serif" font-size="14.5" fill="#c00000" transform="translate(259.1,67.7) scale(0.78,1)">z</text>
<text font-family="Liberation Sans,sans-serif" font-size="14.5" fill="#c00000" transform="translate(287.3,78.2) scale(0.85,1)">y</text>
<text font-family="Liberation Sans,sans-serif" font-size="14.5" fill="#c00000" transform="translate(292.5,122.3) scale(0.85,1)">x</text>
<text x="270.4" y="129" font-family="DejaVu Serif,serif" font-style="italic" font-weight="bold" font-size="21" fill="#bf9000" transform="translate(270.4,129) scale(1.12,1) translate(-270.4,-129)">θ</text>
<text x="310" y="75" font-family="Liberation Serif,serif" font-weight="bold" font-size="19" fill="#548235">B<tspan font-style="italic" font-size="16.5" dy="3.4" letter-spacing="1.3">ip</tspan></text>

<rect x="241" y="148" width="27" height="25" fill="#fff"/>
<path d="M156.1,159.7 L329.4,159.7" stroke="#2f5597" stroke-width="2"/>
<circle cx="254.4" cy="160.3" r="10.5" fill="#fff" stroke="#2f5597" stroke-width="2"/>
<path d="M156.1,159.7 L329.4,159.7" stroke="#2f5597" stroke-width="2"/>
<path d="M243.5,171.6 L263.5,149" stroke="#2f5597" stroke-width="2.2"/>
<path d="M268.6,143.7 L259.2,147.8 L265.1,153.0 Z" fill="#2f5597"/>
<text x="269.5" y="188" font-family="Liberation Serif,serif" font-weight="bold" font-size="27" fill="#2f5597" transform="translate(269.5,188) scale(0.88,1) translate(-269.5,-188)">V</text><text x="285.2" y="192.8" font-family="Liberation Serif,serif" font-weight="bold" font-size="19" fill="#2f5597">xx</text>
</g>

<g class="dj" font-size="13" fill="#111">
<text x="13.6" y="240.7" class="lab" font-size="19.5" fill="#000">d</text>
<line x1="71.2" y1="430" x2="71.2" y2="432.5" stroke="#333" stroke-width="0.8"/>
<text x="71.2" y="443.4" text-anchor="middle">−100</text>
<line x1="132.0" y1="430" x2="132.0" y2="432.5" stroke="#333" stroke-width="0.8"/>
<text x="132.0" y="443.4" text-anchor="middle">−50</text>
<line x1="192.8" y1="430" x2="192.8" y2="432.5" stroke="#333" stroke-width="0.8"/>
<text x="192.8" y="443.4" text-anchor="middle">0</text>
<line x1="253.6" y1="430" x2="253.6" y2="432.5" stroke="#333" stroke-width="0.8"/>
<text x="253.6" y="443.4" text-anchor="middle">50</text>
<line x1="314.4" y1="430" x2="314.4" y2="432.5" stroke="#333" stroke-width="0.8"/>
<text x="314.4" y="443.4" text-anchor="middle">100</text>
<line x1="57" y1="420.0" x2="59.5" y2="420.0" stroke="#333" stroke-width="0.8"/>
<text x="55.5" y="424.7" text-anchor="end">−30</text>
<line x1="57" y1="387.7" x2="59.5" y2="387.7" stroke="#333" stroke-width="0.8"/>
<text x="55.5" y="392.4" text-anchor="end">−20</text>
<line x1="57" y1="355.5" x2="59.5" y2="355.5" stroke="#333" stroke-width="0.8"/>
<text x="55.5" y="360.2" text-anchor="end">−10</text>
<line x1="57" y1="323.2" x2="59.5" y2="323.2" stroke="#333" stroke-width="0.8"/>
<text x="55.5" y="327.9" text-anchor="end">0</text>
<line x1="57" y1="290.9" x2="59.5" y2="290.9" stroke="#333" stroke-width="0.8"/>
<text x="55.5" y="295.6" text-anchor="end">10</text>
<line x1="57" y1="258.7" x2="59.5" y2="258.7" stroke="#333" stroke-width="0.8"/>
<text x="55.5" y="263.4" text-anchor="end">20</text>
<line x1="57" y1="226.4" x2="59.5" y2="226.4" stroke="#333" stroke-width="0.8"/>
<text x="55.5" y="231.1" text-anchor="end">30</text>
<text x="193" y="459" text-anchor="middle" font-size="13.7">Current [nA]</text>
<text transform="translate(23.4,323.3) rotate(-90)" text-anchor="middle" font-size="13.7">Voltage drop [<tspan font-style="italic">μ</tspan>V]</text>
<rect x="59.5" y="217.5" width="267.1" height="212.4" fill="none" stroke="#a8a8a8" stroke-width="1"/>
<path d="M71.2,420.0 L154.6,347.1 M110.3,386.6 L110.7,323.2 M154.6,347.0 L154.2,323.2 M110.3,323.2 L278.2,323.2 M231.4,323.4 L232.3,299.7 M232.3,299.7 L314.4,226.4 M278.3,258.4 L277.8,323.4" fill="none" stroke="#000" stroke-width="2" stroke-linecap="square"/>
</g>
<text x="76.6" y="315.4" font-family="Liberation Serif,serif" fill="#f59a3a" stroke="#f59a3a" stroke-width="0.12" font-style="italic" font-size="20">I</text><text x="82.3" y="318.6" font-family="Liberation Serif,serif" fill="#f59a3a" stroke="#f59a3a" stroke-width="0.12" font-style="italic" font-size="15" textLength="18.6" lengthAdjust="spacingAndGlyphs">sw</text><text x="83.8" y="308.0" font-family="Liberation Serif,serif" fill="#f59a3a" stroke="#f59a3a" stroke-width="0.12" font-size="15" textLength="9.0" lengthAdjust="spacingAndGlyphs">−</text>
<text x="163.8" y="346.2" font-family="Liberation Serif,serif" fill="#ec3b90" stroke="#ec3b90" stroke-width="0.12" font-style="italic" font-size="20">I</text><text x="169.5" y="350.4" font-family="Liberation Serif,serif" fill="#ec3b90" stroke="#ec3b90" stroke-width="0.12" font-style="italic" font-size="17" textLength="14.0" lengthAdjust="spacingAndGlyphs">rt</text><text x="172.0" y="339.3" font-family="Liberation Serif,serif" fill="#ec3b90" stroke="#ec3b90" stroke-width="0.12" font-size="15" textLength="8.8" lengthAdjust="spacingAndGlyphs">−</text>
<text x="202.5" y="314.6" font-family="Liberation Serif,serif" fill="#1fa8e4" stroke="#1fa8e4" stroke-width="0.12" font-style="italic" font-size="20">I</text><text x="208.5" y="318.9" font-family="Liberation Serif,serif" fill="#1fa8e4" stroke="#1fa8e4" stroke-width="0.12" font-style="italic" font-size="17" textLength="14.5" lengthAdjust="spacingAndGlyphs">rt</text><text x="210.6" y="307.8" font-family="Liberation Serif,serif" fill="#1fa8e4" stroke="#1fa8e4" stroke-width="0.12" font-size="17" textLength="9.5" lengthAdjust="spacingAndGlyphs">+</text>
<text x="286.6" y="346.5" font-family="Liberation Serif,serif" fill="#21a65a" stroke="#21a65a" stroke-width="0.12" font-style="italic" font-size="20">I</text><text x="292.8" y="349.9" font-family="Liberation Serif,serif" fill="#21a65a" stroke="#21a65a" stroke-width="0.12" font-style="italic" font-size="15" textLength="19.3" lengthAdjust="spacingAndGlyphs">sw</text><text x="294.9" y="338.8" font-family="Liberation Serif,serif" fill="#21a65a" stroke="#21a65a" stroke-width="0.12" font-size="17" textLength="9.5" lengthAdjust="spacingAndGlyphs">+</text>
<g clip-path="url(#clipE)"><rect x="59" y="468.0" width="3" height="275.4" fill="url(#g0)"/><rect x="62" y="468.0" width="3" height="275.4" fill="url(#g1)"/><rect x="65" y="468.0" width="4" height="275.4" fill="url(#g2)"/><rect x="69" y="468.0" width="5" height="275.4" fill="url(#g3)"/><rect x="74" y="468.0" width="2" height="275.4" fill="url(#g4)"/><rect x="76" y="468.0" width="2" height="275.4" fill="url(#g5)"/><rect x="78" y="468.0" width="4" height="275.4" fill="url(#g6)"/><rect x="82" y="468.0" width="2" height="275.4" fill="url(#g7)"/><rect x="84" y="468.0" width="3" height="275.4" fill="url(#g8)"/><rect x="87" y="468.0" width="4" height="275.4" fill="url(#g9)"/><rect x="91" y="468.0" width="2" height="275.4" fill="url(#g10)"/><rect x="93" y="468.0" width="4" height="275.4" fill="url(#g11)"/><rect x="97" y="468.0" width="3" height="275.4" fill="url(#g12)"/><rect x="100" y="468.0" width="2" height="275.4" fill="url(#g13)"/><rect x="102" y="468.0" width="2" height="275.4" fill="url(#g14)"/><rect x="104" y="468.0" width="4" height="275.4" fill="url(#g15)"/><rect x="108" y="468.0" width="4" height="275.4" fill="url(#g16)"/><rect x="112" y="468.0" width="2" height="275.4" fill="url(#g17)"/><rect x="114" y="468.0" width="3" height="275.4" fill="url(#g18)"/><rect x="117" y="468.0" width="2" height="275.4" fill="url(#g19)"/><rect x="119" y="468.0" width="4" height="275.4" fill="url(#g20)"/><rect x="123" y="468.0" width="4" height="275.4" fill="url(#g21)"/><rect x="127" y="468.0" width="2" height="275.4" fill="url(#g22)"/><rect x="129" y="468.0" width="4" height="275.4" fill="url(#g23)"/><rect x="133" y="468.0" width="2" height="275.4" fill="url(#g24)"/><rect x="135" y="468.0" width="3" height="275.4" fill="url(#g25)"/><rect x="138" y="468.0" width="5" height="275.4" fill="url(#g26)"/><rect x="143" y="468.0" width="5" height="275.4" fill="url(#g27)"/><rect x="148" y="468.0" width="4" height="275.4" fill="url(#g28)"/><rect x="152" y="468.0" width="2" height="275.4" fill="url(#g29)"/><rect x="154" y="468.0" width="4" height="275.4" fill="url(#g30)"/><rect x="158" y="468.0" width="4" height="275.4" fill="url(#g31)"/><rect x="162" y="468.0" width="4" height="275.4" fill="url(#g32)"/><rect x="166" y="468.0" width="2" height="275.4" fill="url(#g33)"/><rect x="168" y="468.0" width="3" height="275.4" fill="url(#g34)"/><rect x="171" y="468.0" width="2" height="275.4" fill="url(#g35)"/><rect x="173" y="468.0" width="4" height="275.4" fill="url(#g36)"/><rect x="177" y="468.0" width="3" height="275.4" fill="url(#g37)"/><rect x="180" y="468.0" width="3" height="275.4" fill="url(#g38)"/><rect x="183" y="468.0" width="4" height="275.4" fill="url(#g39)"/><rect x="187" y="468.0" width="3" height="275.4" fill="url(#g40)"/><rect x="190" y="468.0" width="4" height="275.4" fill="url(#g41)"/><rect x="194" y="468.0" width="2" height="275.4" fill="url(#g42)"/><rect x="196" y="468.0" width="4" height="275.4" fill="url(#g43)"/><rect x="200" y="468.0" width="3" height="275.4" fill="url(#g44)"/><rect x="203" y="468.0" width="4" height="275.4" fill="url(#g45)"/><rect x="207" y="468.0" width="5" height="275.4" fill="url(#g46)"/><rect x="212" y="468.0" width="3" height="275.4" fill="url(#g47)"/><rect x="215" y="468.0" width="2" height="275.4" fill="url(#g48)"/><rect x="217" y="468.0" width="4" height="275.4" fill="url(#g49)"/><rect x="221" y="468.0" width="4" height="275.4" fill="url(#g50)"/><rect x="225" y="468.0" width="5" height="275.4" fill="url(#g51)"/><rect x="230" y="468.0" width="3" height="275.4" fill="url(#g52)"/><rect x="233" y="468.0" width="3" height="275.4" fill="url(#g53)"/><rect x="236" y="468.0" width="2" height="275.4" fill="url(#g54)"/><rect x="238" y="468.0" width="4" height="275.4" fill="url(#g55)"/><rect x="242" y="468.0" width="5" height="275.4" fill="url(#g56)"/><rect x="247" y="468.0" width="2" height="275.4" fill="url(#g57)"/><rect x="249" y="468.0" width="4" height="275.4" fill="url(#g58)"/><rect x="253" y="468.0" width="2" height="275.4" fill="url(#g59)"/><rect x="255" y="468.0" width="4" height="275.4" fill="url(#g60)"/><rect x="259" y="468.0" width="3" height="275.4" fill="url(#g61)"/><rect x="262" y="468.0" width="4" height="275.4" fill="url(#g62)"/><rect x="266" y="468.0" width="5" height="275.4" fill="url(#g63)"/><rect x="271" y="468.0" width="4" height="275.4" fill="url(#g64)"/><rect x="275" y="468.0" width="4" height="275.4" fill="url(#g65)"/><rect x="279" y="468.0" width="3" height="275.4" fill="url(#g66)"/><rect x="282" y="468.0" width="4" height="275.4" fill="url(#g67)"/><rect x="286" y="468.0" width="4" height="275.4" fill="url(#g68)"/><rect x="290" y="468.0" width="4" height="275.4" fill="url(#g69)"/><rect x="294" y="468.0" width="3" height="275.4" fill="url(#g70)"/><rect x="297" y="468.0" width="3" height="275.4" fill="url(#g71)"/><rect x="300" y="468.0" width="3" height="275.4" fill="url(#g72)"/><rect x="303" y="468.0" width="3" height="275.4" fill="url(#g73)"/><rect x="306" y="468.0" width="5" height="275.4" fill="url(#g74)"/><rect x="311" y="468.0" width="3" height="275.4" fill="url(#g75)"/><rect x="314" y="468.0" width="2" height="275.4" fill="url(#g76)"/><rect x="316" y="468.0" width="4" height="275.4" fill="url(#g77)"/><rect x="320" y="468.0" width="3" height="275.4" fill="url(#g78)"/><rect x="323" y="468.0" width="4" height="275.4" fill="url(#g79)"/>
<rect x="92" y="493" width="2.4" height="14" fill="#ff0000"/>
<rect x="75.5" y="487.5" width="1.5" height="4" fill="#ff2020"/>
<rect x="80" y="629" width="1.6" height="62" fill="#a0a0ff"/>
<polyline points="68,479.5 90,490 108,499 130,508.5 160,521 187.8,532.4" fill="none" stroke="#000" stroke-width="2.6"/>
<polyline points="65.7,731 90,721.5 110,712.5 130,700.5 160,688 187.8,677.6" fill="none" stroke="#000" stroke-width="2.6"/>
<polyline points="60.5,519.5 62.0,521.0 64.0,520.0 66.0,519.5 68.0,521.5 70.0,520.0 72.0,519.0 74.0,520.5 76.0,520.0 78.0,521.0 80.0,520.0 82.0,519.5 84.0,520.5 86.0,520.0 88.0,521.0 90.0,520.0 92.0,519.5 94.0,520.5 96.0,521.0 98.0,520.0 100.0,521.0 103.3,522.9 106.0,521.0 108.0,520.0 110.0,521.0 113.0,520.5 116.0,520.0 119.0,521.0 122.0,520.0 125.0,521.5 128.0,522.0 131.0,523.0 133.9,524.7 137.7,521.8 141.6,518.5 148.3,518.9 155.0,520.8 158.9,522.8 163.7,524.7 166.6,526.6 171.4,528.5 176.3,531.4 181.1,533.4 185.9,535.3 191.7,538.2 195.5,540.0 199.4,541.7 203.5,543.5 207.7,546.0 212.5,548.5 219.3,549.9 225.0,552.4 230.8,552.8 236.2,562.0 238.6,554.3 243.4,555.7 247.2,560.9 250.5,560.9 254.0,562.0 257.8,560.5 260.7,561.4" fill="none" stroke="#1e90ff" stroke-width="1.1" stroke-linejoin="round"/><circle cx="60.5" cy="519.5" r="1.8" fill="#1e90ff"/><circle cx="62.0" cy="521.0" r="1.8" fill="#1e90ff"/><circle cx="64.0" cy="520.0" r="1.8" fill="#1e90ff"/><circle cx="66.0" cy="519.5" r="1.8" fill="#1e90ff"/><circle cx="68.0" cy="521.5" r="1.8" fill="#1e90ff"/><circle cx="70.0" cy="520.0" r="1.8" fill="#1e90ff"/><circle cx="72.0" cy="519.0" r="1.8" fill="#1e90ff"/><circle cx="74.0" cy="520.5" r="1.8" fill="#1e90ff"/><circle cx="76.0" cy="520.0" r="1.8" fill="#1e90ff"/><circle cx="78.0" cy="521.0" r="1.8" fill="#1e90ff"/><circle cx="80.0" cy="520.0" r="1.8" fill="#1e90ff"/><circle cx="82.0" cy="519.5" r="1.8" fill="#1e90ff"/><circle cx="84.0" cy="520.5" r="1.8" fill="#1e90ff"/><circle cx="86.0" cy="520.0" r="1.8" fill="#1e90ff"/><circle cx="88.0" cy="521.0" r="1.8" fill="#1e90ff"/><circle cx="90.0" cy="520.0" r="1.8" fill="#1e90ff"/><circle cx="92.0" cy="519.5" r="1.8" fill="#1e90ff"/><circle cx="94.0" cy="520.5" r="1.8" fill="#1e90ff"/><circle cx="96.0" cy="521.0" r="1.8" fill="#1e90ff"/><circle cx="98.0" cy="520.0" r="1.8" fill="#1e90ff"/><circle cx="100.0" cy="521.0" r="1.8" fill="#1e90ff"/><circle cx="103.3" cy="522.9" r="1.8" fill="#1e90ff"/><circle cx="106.0" cy="521.0" r="1.8" fill="#1e90ff"/><circle cx="108.0" cy="520.0" r="1.8" fill="#1e90ff"/><circle cx="110.0" cy="521.0" r="1.8" fill="#1e90ff"/><circle cx="113.0" cy="520.5" r="1.8" fill="#1e90ff"/><circle cx="116.0" cy="520.0" r="1.8" fill="#1e90ff"/><circle cx="119.0" cy="521.0" r="1.8" fill="#1e90ff"/><circle cx="122.0" cy="520.0" r="1.8" fill="#1e90ff"/><circle cx="125.0" cy="521.5" r="1.8" fill="#1e90ff"/><circle cx="128.0" cy="522.0" r="1.8" fill="#1e90ff"/><circle cx="131.0" cy="523.0" r="1.8" fill="#1e90ff"/><circle cx="133.9" cy="524.7" r="1.8" fill="#1e90ff"/><circle cx="137.7" cy="521.8" r="1.8" fill="#1e90ff"/><circle cx="141.6" cy="518.5" r="1.8" fill="#1e90ff"/><circle cx="148.3" cy="518.9" r="1.8" fill="#1e90ff"/><circle cx="155.0" cy="520.8" r="1.8" fill="#1e90ff"/><circle cx="158.9" cy="522.8" r="1.8" fill="#1e90ff"/><circle cx="163.7" cy="524.7" r="1.8" fill="#1e90ff"/><circle cx="166.6" cy="526.6" r="1.8" fill="#1e90ff"/><circle cx="171.4" cy="528.5" r="1.8" fill="#1e90ff"/><circle cx="176.3" cy="531.4" r="1.8" fill="#1e90ff"/><circle cx="181.1" cy="533.4" r="1.8" fill="#1e90ff"/><circle cx="185.9" cy="535.3" r="1.8" fill="#1e90ff"/><circle cx="191.7" cy="538.2" r="1.8" fill="#1e90ff"/><circle cx="195.5" cy="540.0" r="1.8" fill="#1e90ff"/><circle cx="199.4" cy="541.7" r="1.8" fill="#1e90ff"/><circle cx="203.5" cy="543.5" r="1.8" fill="#1e90ff"/><circle cx="207.7" cy="546.0" r="1.8" fill="#1e90ff"/><circle cx="212.5" cy="548.5" r="1.8" fill="#1e90ff"/><circle cx="219.3" cy="549.9" r="1.8" fill="#1e90ff"/><circle cx="225.0" cy="552.4" r="1.8" fill="#1e90ff"/><circle cx="230.8" cy="552.8" r="1.8" fill="#1e90ff"/><circle cx="236.2" cy="562.0" r="1.8" fill="#1e90ff"/><circle cx="238.6" cy="554.3" r="1.8" fill="#1e90ff"/><circle cx="243.4" cy="555.7" r="1.8" fill="#1e90ff"/><circle cx="247.2" cy="560.9" r="1.8" fill="#1e90ff"/><circle cx="250.5" cy="560.9" r="1.8" fill="#1e90ff"/><circle cx="254.0" cy="562.0" r="1.8" fill="#1e90ff"/><circle cx="257.8" cy="560.5" r="1.8" fill="#1e90ff"/><circle cx="260.7" cy="561.4" r="1.8" fill="#1e90ff"/>
<polyline points="61.5,482.0 63.0,472.5 62.0,474.0 63.5,477.0 65.5,473.5 65.0,480.0 64.0,483.0 66.0,482.5 67.5,481.0 60.4,484.1 61.0,479.3 60.4,475.6 61.6,470.8 63.4,470.2 62.8,478.0 64.6,475.0 66.4,476.8 67.6,479.3 69.4,481.7 72.5,484.1 72.5,487.7 74.3,485.9 76.1,484.1 78.5,494.3 79.1,489.5 81.5,486.5 83.9,489.5 85.7,488.3 87.5,488.9 90.5,491.3 93.5,490.7 97.8,493.1 100.2,493.7 103.2,494.9 106.8,495.5 110.0,497.8 115.8,501.7 121.6,504.6 127.4,506.5 130.0,507.3 133.9,509.3 137.7,511.2 142.5,510.8 147.3,519.9 152.2,518.9 158.0,520.8 161.8,522.8 166.6,524.7 171.4,527.6 176.3,529.5 181.1,532.4 185.9,533.4 191.7,536.3 198.4,539.7 203.0,541.5 207.7,543.1 212.5,545.1 219.3,547.0 225.0,549.9 230.8,550.8 235.7,553.7 240.5,555.7 247.2,556.6 253.0,559.5 261.7,564.3" fill="none" stroke="#32cd32" stroke-width="1.1" stroke-linejoin="round"/><circle cx="61.5" cy="482.0" r="1.8" fill="#32cd32"/><circle cx="63.0" cy="472.5" r="1.8" fill="#32cd32"/><circle cx="62.0" cy="474.0" r="1.8" fill="#32cd32"/><circle cx="63.5" cy="477.0" r="1.8" fill="#32cd32"/><circle cx="65.5" cy="473.5" r="1.8" fill="#32cd32"/><circle cx="65.0" cy="480.0" r="1.8" fill="#32cd32"/><circle cx="64.0" cy="483.0" r="1.8" fill="#32cd32"/><circle cx="66.0" cy="482.5" r="1.8" fill="#32cd32"/><circle cx="67.5" cy="481.0" r="1.8" fill="#32cd32"/><circle cx="60.4" cy="484.1" r="1.8" fill="#32cd32"/><circle cx="61.0" cy="479.3" r="1.8" fill="#32cd32"/><circle cx="60.4" cy="475.6" r="1.8" fill="#32cd32"/><circle cx="61.6" cy="470.8" r="1.8" fill="#32cd32"/><circle cx="63.4" cy="470.2" r="1.8" fill="#32cd32"/><circle cx="62.8" cy="478.0" r="1.8" fill="#32cd32"/><circle cx="64.6" cy="475.0" r="1.8" fill="#32cd32"/><circle cx="66.4" cy="476.8" r="1.8" fill="#32cd32"/><circle cx="67.6" cy="479.3" r="1.8" fill="#32cd32"/><circle cx="69.4" cy="481.7" r="1.8" fill="#32cd32"/><circle cx="72.5" cy="484.1" r="1.8" fill="#32cd32"/><circle cx="72.5" cy="487.7" r="1.8" fill="#32cd32"/><circle cx="74.3" cy="485.9" r="1.8" fill="#32cd32"/><circle cx="76.1" cy="484.1" r="1.8" fill="#32cd32"/><circle cx="78.5" cy="494.3" r="1.8" fill="#32cd32"/><circle cx="79.1" cy="489.5" r="1.8" fill="#32cd32"/><circle cx="81.5" cy="486.5" r="1.8" fill="#32cd32"/><circle cx="83.9" cy="489.5" r="1.8" fill="#32cd32"/><circle cx="85.7" cy="488.3" r="1.8" fill="#32cd32"/><circle cx="87.5" cy="488.9" r="1.8" fill="#32cd32"/><circle cx="90.5" cy="491.3" r="1.8" fill="#32cd32"/><circle cx="93.5" cy="490.7" r="1.8" fill="#32cd32"/><circle cx="97.8" cy="493.1" r="1.8" fill="#32cd32"/><circle cx="100.2" cy="493.7" r="1.8" fill="#32cd32"/><circle cx="103.2" cy="494.9" r="1.8" fill="#32cd32"/><circle cx="106.8" cy="495.5" r="1.8" fill="#32cd32"/><circle cx="110.0" cy="497.8" r="1.8" fill="#32cd32"/><circle cx="115.8" cy="501.7" r="1.8" fill="#32cd32"/><circle cx="121.6" cy="504.6" r="1.8" fill="#32cd32"/><circle cx="127.4" cy="506.5" r="1.8" fill="#32cd32"/><circle cx="130.0" cy="507.3" r="1.8" fill="#32cd32"/><circle cx="133.9" cy="509.3" r="1.8" fill="#32cd32"/><circle cx="137.7" cy="511.2" r="1.8" fill="#32cd32"/><circle cx="142.5" cy="510.8" r="1.8" fill="#32cd32"/><circle cx="147.3" cy="519.9" r="1.8" fill="#32cd32"/><circle cx="152.2" cy="518.9" r="1.8" fill="#32cd32"/><circle cx="158.0" cy="520.8" r="1.8" fill="#32cd32"/><circle cx="161.8" cy="522.8" r="1.8" fill="#32cd32"/><circle cx="166.6" cy="524.7" r="1.8" fill="#32cd32"/><circle cx="171.4" cy="527.6" r="1.8" fill="#32cd32"/><circle cx="176.3" cy="529.5" r="1.8" fill="#32cd32"/><circle cx="181.1" cy="532.4" r="1.8" fill="#32cd32"/><circle cx="185.9" cy="533.4" r="1.8" fill="#32cd32"/><circle cx="191.7" cy="536.3" r="1.8" fill="#32cd32"/><circle cx="198.4" cy="539.7" r="1.8" fill="#32cd32"/><circle cx="203.0" cy="541.5" r="1.8" fill="#32cd32"/><circle cx="207.7" cy="543.1" r="1.8" fill="#32cd32"/><circle cx="212.5" cy="545.1" r="1.8" fill="#32cd32"/><circle cx="219.3" cy="547.0" r="1.8" fill="#32cd32"/><circle cx="225.0" cy="549.9" r="1.8" fill="#32cd32"/><circle cx="230.8" cy="550.8" r="1.8" fill="#32cd32"/><circle cx="235.7" cy="553.7" r="1.8" fill="#32cd32"/><circle cx="240.5" cy="555.7" r="1.8" fill="#32cd32"/><circle cx="247.2" cy="556.6" r="1.8" fill="#32cd32"/><circle cx="253.0" cy="559.5" r="1.8" fill="#32cd32"/><circle cx="261.7" cy="564.3" r="1.8" fill="#32cd32"/>
<polyline points="60.5,689.5 62.0,690.5 64.0,689.0 66.0,690.0 68.0,689.5 70.0,690.5 72.5,695.0 75.0,690.0 78.0,689.5 80.0,690.5 83.0,689.5 86.0,690.0 89.0,689.5 91.0,690.5 93.7,693.9 96.0,690.0 99.0,689.5 102.0,690.5 105.0,689.5 108.0,690.0 111.0,689.5 114.0,690.5 117.0,689.5 120.0,690.0 123.0,689.0 126.0,689.5 130.0,689.1 135.8,687.2 142.5,686.2 147.3,691.1 152.2,692.4 155.0,690.1 158.9,689.1 165.6,686.6 171.4,684.3 176.3,682.0 181.1,679.5 185.9,676.6 191.7,674.3 199.4,670.8 207.7,667.2 213.0,664.5 219.3,661.4 225.0,659.5 231.0,657.5 238.6,654.7 246.3,651.8 251.1,650.4 255.9,652.8 261.7,648.0" fill="none" stroke="#ff1493" stroke-width="1.1" stroke-linejoin="round"/><circle cx="60.5" cy="689.5" r="1.8" fill="#ff1493"/><circle cx="62.0" cy="690.5" r="1.8" fill="#ff1493"/><circle cx="64.0" cy="689.0" r="1.8" fill="#ff1493"/><circle cx="66.0" cy="690.0" r="1.8" fill="#ff1493"/><circle cx="68.0" cy="689.5" r="1.8" fill="#ff1493"/><circle cx="70.0" cy="690.5" r="1.8" fill="#ff1493"/><circle cx="72.5" cy="695.0" r="1.8" fill="#ff1493"/><circle cx="75.0" cy="690.0" r="1.8" fill="#ff1493"/><circle cx="78.0" cy="689.5" r="1.8" fill="#ff1493"/><circle cx="80.0" cy="690.5" r="1.8" fill="#ff1493"/><circle cx="83.0" cy="689.5" r="1.8" fill="#ff1493"/><circle cx="86.0" cy="690.0" r="1.8" fill="#ff1493"/><circle cx="89.0" cy="689.5" r="1.8" fill="#ff1493"/><circle cx="91.0" cy="690.5" r="1.8" fill="#ff1493"/><circle cx="93.7" cy="693.9" r="1.8" fill="#ff1493"/><circle cx="96.0" cy="690.0" r="1.8" fill="#ff1493"/><circle cx="99.0" cy="689.5" r="1.8" fill="#ff1493"/><circle cx="102.0" cy="690.5" r="1.8" fill="#ff1493"/><circle cx="105.0" cy="689.5" r="1.8" fill="#ff1493"/><circle cx="108.0" cy="690.0" r="1.8" fill="#ff1493"/><circle cx="111.0" cy="689.5" r="1.8" fill="#ff1493"/><circle cx="114.0" cy="690.5" r="1.8" fill="#ff1493"/><circle cx="117.0" cy="689.5" r="1.8" fill="#ff1493"/><circle cx="120.0" cy="690.0" r="1.8" fill="#ff1493"/><circle cx="123.0" cy="689.0" r="1.8" fill="#ff1493"/><circle cx="126.0" cy="689.5" r="1.8" fill="#ff1493"/><circle cx="130.0" cy="689.1" r="1.8" fill="#ff1493"/><circle cx="135.8" cy="687.2" r="1.8" fill="#ff1493"/><circle cx="142.5" cy="686.2" r="1.8" fill="#ff1493"/><circle cx="147.3" cy="691.1" r="1.8" fill="#ff1493"/><circle cx="152.2" cy="692.4" r="1.8" fill="#ff1493"/><circle cx="155.0" cy="690.1" r="1.8" fill="#ff1493"/><circle cx="158.9" cy="689.1" r="1.8" fill="#ff1493"/><circle cx="165.6" cy="686.6" r="1.8" fill="#ff1493"/><circle cx="171.4" cy="684.3" r="1.8" fill="#ff1493"/><circle cx="176.3" cy="682.0" r="1.8" fill="#ff1493"/><circle cx="181.1" cy="679.5" r="1.8" fill="#ff1493"/><circle cx="185.9" cy="676.6" r="1.8" fill="#ff1493"/><circle cx="191.7" cy="674.3" r="1.8" fill="#ff1493"/><circle cx="199.4" cy="670.8" r="1.8" fill="#ff1493"/><circle cx="207.7" cy="667.2" r="1.8" fill="#ff1493"/><circle cx="213.0" cy="664.5" r="1.8" fill="#ff1493"/><circle cx="219.3" cy="661.4" r="1.8" fill="#ff1493"/><circle cx="225.0" cy="659.5" r="1.8" fill="#ff1493"/><circle cx="231.0" cy="657.5" r="1.8" fill="#ff1493"/><circle cx="238.6" cy="654.7" r="1.8" fill="#ff1493"/><circle cx="246.3" cy="651.8" r="1.8" fill="#ff1493"/><circle cx="251.1" cy="650.4" r="1.8" fill="#ff1493"/><circle cx="255.9" cy="652.8" r="1.8" fill="#ff1493"/><circle cx="261.7" cy="648.0" r="1.8" fill="#ff1493"/>
<polyline points="60.9,721.4 61.3,727.0 61.9,731.0 62.5,735.0 63.2,729.0 64.0,733.0 64.8,737.8 65.7,736.0 66.3,731.0 66.7,728.0 67.6,726.3 69.5,726.0 71.5,725.5 73.4,725.3 76.0,725.0 78.5,724.5 81.1,724.7 84.0,724.0 86.9,723.4 89.5,722.0 92.7,720.5 95.5,718.5 98.5,716.6 101.5,715.5 104.3,714.7 107.0,712.5 110.0,710.8 113.0,710.0 115.8,708.9 118.5,707.5 121.6,706.0 125.0,705.0 129.3,704.1 133.0,702.5 136.7,699.8 142.5,694.9 148.3,692.0 155.0,690.1 158.9,689.1 165.6,686.6 171.4,684.3 176.3,682.0 181.1,679.5 185.9,676.6 191.7,674.3 199.4,670.8 203.5,670.0 207.7,669.1 212.5,664.7 219.3,663.4 225.0,662.8 230.8,659.5 236.6,657.0 244.3,655.6 250.1,651.8 255.9,648.9 261.7,652.8" fill="none" stroke="#ffa500" stroke-width="1.1" stroke-linejoin="round"/><circle cx="60.9" cy="721.4" r="1.9" fill="#ffa500"/><circle cx="61.3" cy="727.0" r="1.9" fill="#ffa500"/><circle cx="61.9" cy="731.0" r="1.9" fill="#ffa500"/><circle cx="62.5" cy="735.0" r="1.9" fill="#ffa500"/><circle cx="63.2" cy="729.0" r="1.9" fill="#ffa500"/><circle cx="64.0" cy="733.0" r="1.9" fill="#ffa500"/><circle cx="64.8" cy="737.8" r="1.9" fill="#ffa500"/><circle cx="65.7" cy="736.0" r="1.9" fill="#ffa500"/><circle cx="66.3" cy="731.0" r="1.9" fill="#ffa500"/><circle cx="66.7" cy="728.0" r="1.9" fill="#ffa500"/><circle cx="67.6" cy="726.3" r="1.9" fill="#ffa500"/><circle cx="69.5" cy="726.0" r="1.9" fill="#ffa500"/><circle cx="71.5" cy="725.5" r="1.9" fill="#ffa500"/><circle cx="73.4" cy="725.3" r="1.9" fill="#ffa500"/><circle cx="76.0" cy="725.0" r="1.9" fill="#ffa500"/><circle cx="78.5" cy="724.5" r="1.9" fill="#ffa500"/><circle cx="81.1" cy="724.7" r="1.9" fill="#ffa500"/><circle cx="84.0" cy="724.0" r="1.9" fill="#ffa500"/><circle cx="86.9" cy="723.4" r="1.9" fill="#ffa500"/><circle cx="89.5" cy="722.0" r="1.9" fill="#ffa500"/><circle cx="92.7" cy="720.5" r="1.9" fill="#ffa500"/><circle cx="95.5" cy="718.5" r="1.9" fill="#ffa500"/><circle cx="98.5" cy="716.6" r="1.9" fill="#ffa500"/><circle cx="101.5" cy="715.5" r="1.9" fill="#ffa500"/><circle cx="104.3" cy="714.7" r="1.9" fill="#ffa500"/><circle cx="107.0" cy="712.5" r="1.9" fill="#ffa500"/><circle cx="110.0" cy="710.8" r="1.9" fill="#ffa500"/><circle cx="113.0" cy="710.0" r="1.9" fill="#ffa500"/><circle cx="115.8" cy="708.9" r="1.9" fill="#ffa500"/><circle cx="118.5" cy="707.5" r="1.9" fill="#ffa500"/><circle cx="121.6" cy="706.0" r="1.9" fill="#ffa500"/><circle cx="125.0" cy="705.0" r="1.9" fill="#ffa500"/><circle cx="129.3" cy="704.1" r="1.9" fill="#ffa500"/><circle cx="133.0" cy="702.5" r="1.9" fill="#ffa500"/><circle cx="136.7" cy="699.8" r="1.9" fill="#ffa500"/><circle cx="142.5" cy="694.9" r="1.9" fill="#ffa500"/><circle cx="148.3" cy="692.0" r="1.9" fill="#ffa500"/><circle cx="155.0" cy="690.1" r="1.9" fill="#ffa500"/><circle cx="158.9" cy="689.1" r="1.9" fill="#ffa500"/><circle cx="165.6" cy="686.6" r="1.9" fill="#ffa500"/><circle cx="171.4" cy="684.3" r="1.9" fill="#ffa500"/><circle cx="176.3" cy="682.0" r="1.9" fill="#ffa500"/><circle cx="181.1" cy="679.5" r="1.9" fill="#ffa500"/><circle cx="185.9" cy="676.6" r="1.9" fill="#ffa500"/><circle cx="191.7" cy="674.3" r="1.9" fill="#ffa500"/><circle cx="199.4" cy="670.8" r="1.9" fill="#ffa500"/><circle cx="203.5" cy="670.0" r="1.9" fill="#ffa500"/><circle cx="207.7" cy="669.1" r="1.9" fill="#ffa500"/><circle cx="212.5" cy="664.7" r="1.9" fill="#ffa500"/><circle cx="219.3" cy="663.4" r="1.9" fill="#ffa500"/><circle cx="225.0" cy="662.8" r="1.9" fill="#ffa500"/><circle cx="230.8" cy="659.5" r="1.9" fill="#ffa500"/><circle cx="236.6" cy="657.0" r="1.9" fill="#ffa500"/><circle cx="244.3" cy="655.6" r="1.9" fill="#ffa500"/><circle cx="250.1" cy="651.8" r="1.9" fill="#ffa500"/><circle cx="255.9" cy="648.9" r="1.9" fill="#ffa500"/><circle cx="261.7" cy="652.8" r="1.9" fill="#ffa500"/>
<rect x="87.1" y="576" width="4.7" height="68.6" fill="#1aaee6"/>
<path d="M89.4,563.8 L82.7,577.1 L95.9,577.1 Z" fill="#1aaee6"/>
</g>
<rect x="59.4" y="468" width="267.4" height="275.4" fill="none" stroke="#000" stroke-width="0.9"/>
<rect x="254.8" y="473.4" width="66.9" height="90" rx="2.5" fill="#fff" fill-opacity="0.8" stroke="#ddd" stroke-width="0.8"/>
<line x1="258.7" y1="482.1" x2="282.8" y2="482.1" stroke="#000" stroke-width="2.6"/>
<text x="290.2" y="486.3" class="dj" font-size="11.2" fill="#111">KO-2</text>

<line x1="258.7" y1="499.2" x2="282.8" y2="499.2" stroke="#32cd32" stroke-width="1"/><circle cx="270.8" cy="499.2" r="1.8" fill="#32cd32"/>
<text x="291" y="503.3" class="dj" font-style="italic" font-size="11" fill="#111">I</text><text x="293.6" y="506.3" class="dj" font-style="italic" font-size="7.7" fill="#111">sw</text><text x="296.2" y="499.3" class="dj" font-size="7.7" fill="#111">+</text>
<line x1="258.7" y1="517.7" x2="282.8" y2="517.7" stroke="#1e90ff" stroke-width="1"/><circle cx="270.8" cy="517.7" r="1.8" fill="#1e90ff"/>
<text x="291" y="521.8" class="dj" font-style="italic" font-size="11" fill="#111">I</text><text x="293.6" y="524.8" class="dj" font-style="italic" font-size="7.7" fill="#111">rt</text><text x="296.2" y="517.8" class="dj" font-size="7.7" fill="#111">+</text>
<line x1="258.7" y1="534.9" x2="282.8" y2="534.9" stroke="#ff1493" stroke-width="1"/><circle cx="270.8" cy="534.9" r="1.8" fill="#ff1493"/>
<text x="291" y="539.0" class="dj" font-style="italic" font-size="11" fill="#111">I</text><text x="293.6" y="542.0" class="dj" font-style="italic" font-size="7.7" fill="#111">rt</text><text x="296.2" y="535.0" class="dj" font-size="7.7" fill="#111">−</text>
<line x1="258.7" y1="551.9" x2="282.8" y2="551.9" stroke="#ffa500" stroke-width="1"/><circle cx="270.8" cy="551.9" r="1.8" fill="#ffa500"/>
<text x="291" y="556.0" class="dj" font-style="italic" font-size="11" fill="#111">I</text><text x="293.6" y="559.0" class="dj" font-style="italic" font-size="7.7" fill="#111">sw</text><text x="296.2" y="552.0" class="dj" font-size="7.7" fill="#111">−</text>
<g class="dj" font-size="13" fill="#111">
<text x="13.5" y="493.9" class="lab" font-size="19" fill="#000">e</text>
<line x1="57" y1="495.5" x2="59.4" y2="495.5" stroke="#333" stroke-width="0.8"/>
<text x="55.5" y="500.5" text-anchor="end" font-size="13.4">40</text>
<line x1="57" y1="550.6" x2="59.4" y2="550.6" stroke="#333" stroke-width="0.8"/>
<text x="55.5" y="555.6" text-anchor="end" font-size="13.4">20</text>
<line x1="57" y1="605.7" x2="59.4" y2="605.7" stroke="#333" stroke-width="0.8"/>
<text x="55.5" y="610.7" text-anchor="end" font-size="13.4">0</text>
<line x1="57" y1="660.8" x2="59.4" y2="660.8" stroke="#333" stroke-width="0.8"/>
<text x="55.5" y="665.8" text-anchor="end" font-size="13.4">−20</text>
<line x1="57" y1="715.9" x2="59.4" y2="715.9" stroke="#333" stroke-width="0.8"/>
<text x="55.5" y="720.9" text-anchor="end" font-size="13.4">−40</text>
<line x1="109.8" y1="743.4" x2="109.8" y2="746" stroke="#333" stroke-width="0.8"/>
<text x="109.8" y="758" text-anchor="middle" font-size="13.4">0.2</text>
<line x1="171.6" y1="743.4" x2="171.6" y2="746" stroke="#333" stroke-width="0.8"/>
<text x="171.6" y="758" text-anchor="middle" font-size="13.4">0.4</text>
<line x1="233.5" y1="743.4" x2="233.5" y2="746" stroke="#333" stroke-width="0.8"/>
<text x="233.5" y="758" text-anchor="middle" font-size="13.4">0.6</text>
<line x1="295.3" y1="743.4" x2="295.3" y2="746" stroke="#333" stroke-width="0.8"/>
<text x="295.3" y="758" text-anchor="middle" font-size="13.4">0.8</text>
<text x="193" y="773" text-anchor="middle" font-size="13.8">Temperature [K]</text>
<text transform="translate(22,605.6) rotate(-90)" text-anchor="middle" font-size="13.8">Current [nA]</text>
<rect x="340.1" y="468" width="14.2" height="275.4" fill="url(#cbar)" stroke="#000" stroke-width="0.6"/>
<line x1="354.3" y1="743.4" x2="356.8" y2="743.4" stroke="#333" stroke-width="0.8"/>
<text x="358.2" y="748.3" font-size="13.4">−40</text>
<line x1="354.3" y1="709.0" x2="356.8" y2="709.0" stroke="#333" stroke-width="0.8"/>
<text x="358.2" y="713.9" font-size="13.4">−30</text>
<line x1="354.3" y1="674.5" x2="356.8" y2="674.5" stroke="#333" stroke-width="0.8"/>
<text x="358.2" y="679.4" font-size="13.4">−20</text>
<line x1="354.3" y1="640.1" x2="356.8" y2="640.1" stroke="#333" stroke-width="0.8"/>
<text x="358.2" y="645.0" font-size="13.4">−10</text>
<line x1="354.3" y1="605.7" x2="356.8" y2="605.7" stroke="#333" stroke-width="0.8"/>
<text x="358.2" y="610.6" font-size="13.4">0</text>
<line x1="354.3" y1="571.3" x2="356.8" y2="571.3" stroke="#333" stroke-width="0.8"/>
<text x="358.2" y="576.2" font-size="13.4">10</text>
<line x1="354.3" y1="536.9" x2="356.8" y2="536.9" stroke="#333" stroke-width="0.8"/>
<text x="358.2" y="541.8" font-size="13.4">20</text>
<line x1="354.3" y1="502.4" x2="356.8" y2="502.4" stroke="#333" stroke-width="0.8"/>
<text x="358.2" y="507.3" font-size="13.4">30</text>
<line x1="354.3" y1="468.0" x2="356.8" y2="468.0" stroke="#333" stroke-width="0.8"/>
<text x="358.2" y="472.9" font-size="13.4">40</text>
<text transform="translate(399.9,605) rotate(-90)" text-anchor="middle" font-size="13.8">Voltage drop [<tspan font-style="italic">μ</tspan>V]</text>
</g>
</svg></body></html>
